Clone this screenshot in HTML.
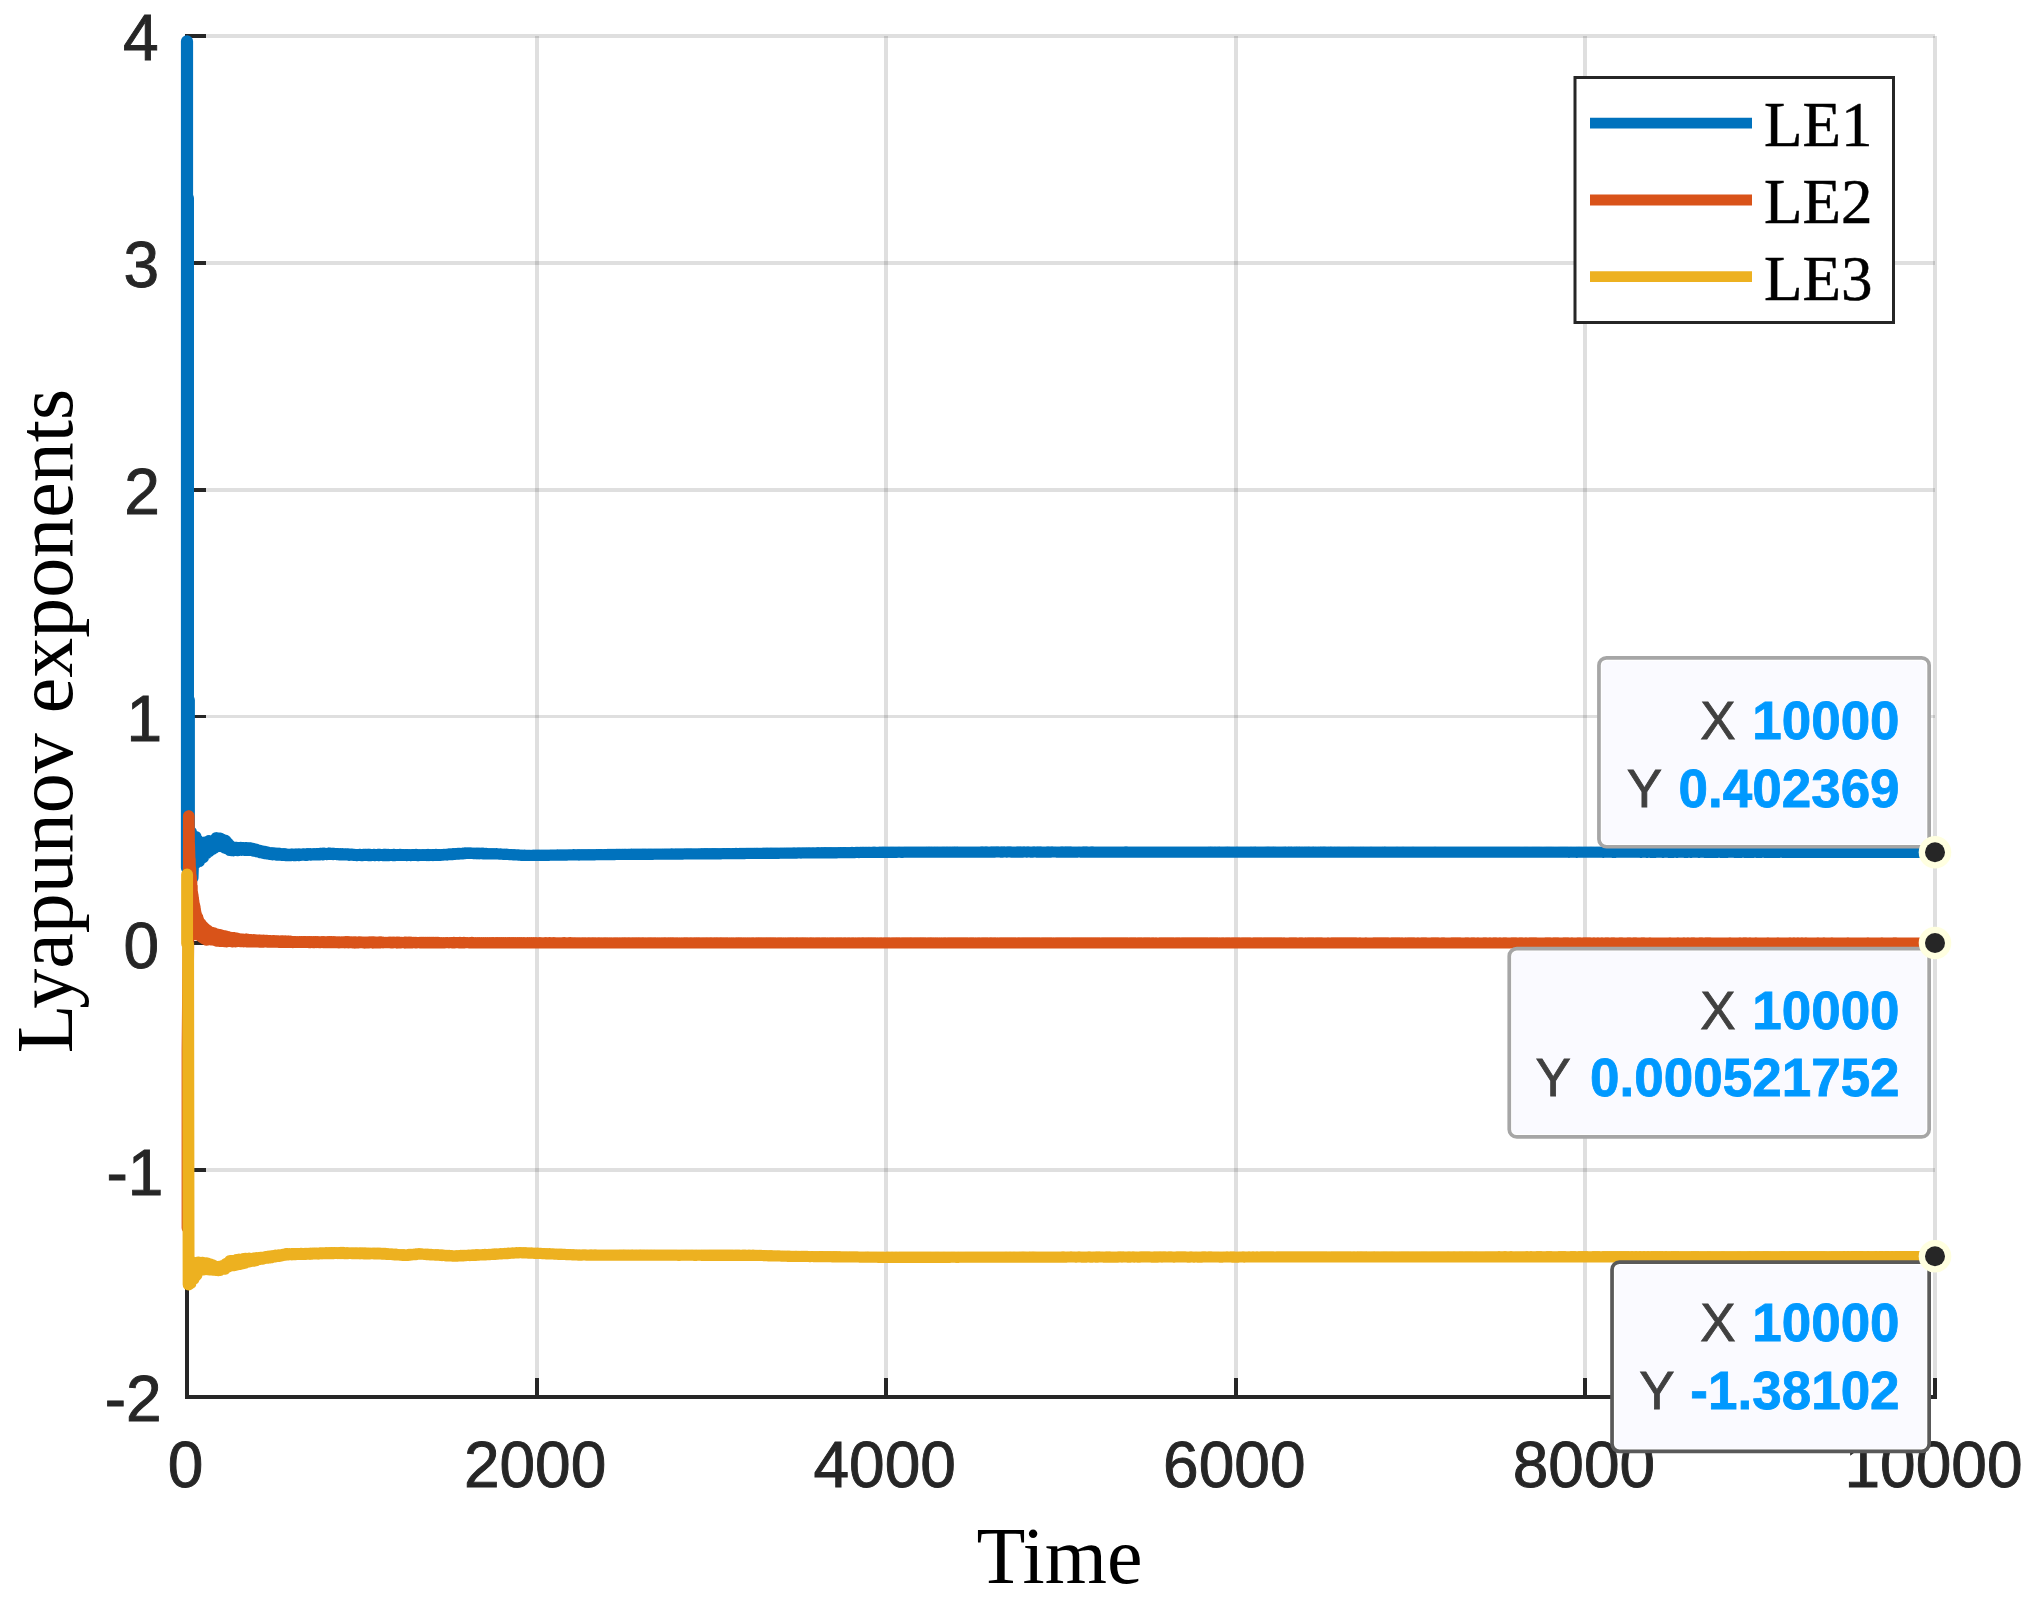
<!DOCTYPE html>
<html lang="en"><head><meta charset="utf-8"><title>Lyapunov exponents</title>
<style>html,body{margin:0;padding:0;background:#fff}svg{display:block}</style>
</head><body>
<svg width="2034" height="1598" viewBox="0 0 2034 1598">
<rect width="2034" height="1598" fill="#fff"/>
<g stroke="#262626" stroke-opacity="0.15" stroke-width="4" fill="none">
<line x1="537.0" y1="36.0" x2="537.0" y2="1397.0"/>
<line x1="886.0" y1="36.0" x2="886.0" y2="1397.0"/>
<line x1="1236.0" y1="36.0" x2="1236.0" y2="1397.0"/>
<line x1="1585.0" y1="36.0" x2="1585.0" y2="1397.0"/>
<line x1="1935.0" y1="36.0" x2="1935.0" y2="1397.0"/>
<line x1="187.0" y1="36.0" x2="1935.0" y2="36.0"/>
<line x1="187.0" y1="263.0" x2="1935.0" y2="263.0"/>
<line x1="187.0" y1="490.0" x2="1935.0" y2="490.0"/>
<line x1="187.0" y1="716.5" x2="1935.0" y2="716.5" stroke-width="3"/>
<line x1="187.0" y1="943.0" x2="1935.0" y2="943.0"/>
<line x1="187.0" y1="1170.0" x2="1935.0" y2="1170.0"/>
</g>
<g stroke="#262626" stroke-width="4" fill="none">
<polyline points="187.0,34.0 187.0,1397.0 1937.0,1397.0" stroke-linejoin="miter"/>
<line x1="537.0" y1="1397.0" x2="537.0" y2="1378.0"/>
<line x1="886.0" y1="1397.0" x2="886.0" y2="1378.0"/>
<line x1="1236.0" y1="1397.0" x2="1236.0" y2="1378.0"/>
<line x1="1585.0" y1="1397.0" x2="1585.0" y2="1378.0"/>
<line x1="1935.0" y1="1397.0" x2="1935.0" y2="1378.0"/>
<line x1="187.0" y1="36.0" x2="206.0" y2="36.0"/>
<line x1="187.0" y1="263.0" x2="206.0" y2="263.0"/>
<line x1="187.0" y1="490.0" x2="206.0" y2="490.0"/>
<line x1="187.0" y1="716.5" x2="206.0" y2="716.5" stroke-width="3"/>
<line x1="187.0" y1="943.0" x2="206.0" y2="943.0"/>
<line x1="187.0" y1="1170.0" x2="206.0" y2="1170.0"/>
</g>
<g font-family="'Liberation Sans', Arial, Helvetica, sans-serif" font-size="64" fill="#262626" stroke="#262626" stroke-width="0.9">
<text x="185.5" y="1487" text-anchor="middle">0</text>
<text x="535.1" y="1487" text-anchor="middle">2000</text>
<text x="884.7" y="1487" text-anchor="middle">4000</text>
<text x="1234.3" y="1487" text-anchor="middle">6000</text>
<text x="1583.9" y="1487" text-anchor="middle">8000</text>
<text x="1933.5" y="1487" text-anchor="middle">10000</text>
<text x="158.6" y="60.4" text-anchor="end">4</text>
<text x="159.2" y="287.2" text-anchor="end">3</text>
<text x="159.8" y="514.1" text-anchor="end">2</text>
<text x="162" y="740.9" text-anchor="end">1</text>
<text x="159" y="967.7" text-anchor="end">0</text>
<text x="163.3" y="1194.6" text-anchor="end">-1</text>
<text x="161.7" y="1421.4" text-anchor="end">-2</text>
</g>
<g font-family="'Liberation Serif', 'Times New Roman', Times, serif" font-size="80" fill="#000">
<text x="1059.5" y="1582.5" text-anchor="middle">Time</text>
<text transform="translate(71.7,721) rotate(-90)" text-anchor="middle">Lyapunov exponents</text>
</g>
<g fill="none" stroke-width="11" stroke-linejoin="round" stroke-linecap="round">
<path stroke="#0072BD" stroke-width="12.2" d="M187 41.3V868M187.9 198V868M188.8 700V868"/>
<polyline stroke="#0072BD" points="187.6,868.0 188.5,840.0 190.0,872.0 191.5,832.0 193.0,878.0 194.5,836.0 195.5,862.8 196.0,836.5 196.5,863.2 197.0,841.7 197.5,860.3 198.0,839.9 198.5,858.7 199.0,841.8 199.5,861.6 200.0,843.4 200.5,858.5 201.0,844.1 201.5,857.3 202.0,843.5 202.5,857.2 203.0,843.2 203.5,857.7 204.0,842.5 204.5,855.5 205.0,842.0 205.5,853.4 206.0,843.9 206.5,853.8 207.0,843.7 207.5,851.5 208.0,842.0 208.5,851.9 209.0,840.6 209.5,851.6 210.0,841.1 210.5,850.5 211.0,841.3 211.5,848.7 212.0,841.0 212.5,849.5 213.0,840.5 213.5,848.1 214.0,840.5 214.5,848.3 215.0,839.7 215.5,846.4 216.0,837.7 216.5,846.5 217.0,837.8 217.5,846.7 218.0,838.1 218.5,845.6 219.0,838.5 219.5,846.4 220.0,837.9 220.5,846.1 221.0,838.5 221.5,845.5 222.0,838.9 222.5,845.9 223.0,839.4 223.5,847.2 224.0,839.7 224.5,848.2 225.0,840.0 225.5,848.1 226.0,840.7 226.5,848.9 227.0,842.3 227.5,849.2 228.0,842.9 228.5,849.6 229.0,844.3 229.5,850.6 230.0,845.3 230.5,850.4 231.0,846.4 231.5,850.8 232.0,847.3 232.5,850.3 233.0,847.1 233.5,850.9 234.0,847.1 234.5,850.6 235.0,847.7 235.5,850.3 236.0,847.2 236.5,850.5 237.0,847.7 237.5,850.8 238.0,847.4 238.5,850.5 239.0,847.6 239.5,850.4 240.0,847.8 240.5,850.1 241.0,847.3 241.5,850.4 242.0,847.6 242.5,850.2 243.0,847.5 243.5,850.0 244.0,847.8 244.5,850.0 245.0,847.9 245.5,850.6 246.0,847.6 246.5,850.2 247.0,847.7 247.5,850.5 248.0,847.9 248.5,850.3 249.0,847.7 249.5,850.1 250.0,847.8 250.5,850.5 251.0,847.8 251.5,850.3 252.0,848.0 252.5,850.5 253.0,848.4 253.5,851.2 254.0,849.0 254.5,851.2 255.0,848.9 255.5,851.2 256.0,849.2 256.5,851.8 257.0,849.5 257.5,852.0 258.0,849.9 258.5,851.9 259.0,850.1 259.5,852.1 260.0,850.4 260.5,852.8 261.0,850.5 261.5,852.7 262.0,850.9 262.5,853.2 263.0,851.0 263.5,853.5 264.0,851.2 264.5,853.4 265.0,851.3 265.5,853.8 266.0,851.7 266.5,853.8 267.0,851.8 267.5,854.1 268.0,852.0 268.5,854.1 269.0,852.5 269.5,854.6 270.0,852.5 270.5,854.6 271.0,852.7 271.5,854.8 272.0,852.8 272.5,854.9 273.0,852.7 273.5,854.8 274.0,853.1 274.5,854.8 275.0,853.3 275.5,854.8 276.0,853.0 276.5,855.2 277.0,853.4 277.5,855.1 278.0,853.3 278.5,855.2 279.0,853.3 279.5,855.1 280.0,853.3 280.5,855.2 281.0,853.5 281.5,855.4 282.0,853.8 282.5,855.2 283.0,853.7 283.5,855.5 284.0,853.6 284.5,855.6 285.0,854.0 285.5,855.7 286.0,853.8 286.5,855.8 287.0,854.0 287.5,855.8 288.0,854.2 288.5,855.5 289.0,854.3 289.5,855.7 290.0,854.3 290.5,855.7 291.0,854.1 291.5,855.6 292.0,854.1 292.5,855.6 293.0,854.0 293.5,855.5 294.0,854.2 294.5,855.8 295.0,854.0 295.5,855.8 296.0,854.0 296.5,855.6 297.0,854.1 297.5,855.6 298.0,854.2 298.5,855.7 299.0,853.8 299.5,855.6 300.0,854.1 301.0,855.4 302.0,853.9 303.0,855.2 304.0,853.8 305.0,855.4 306.0,853.8 307.0,855.4 308.0,853.6 309.0,855.1 310.0,853.5 311.0,855.3 312.0,853.7 313.0,855.1 314.0,853.5 315.0,855.1 316.0,853.6 317.0,855.0 318.0,853.4 319.0,855.0 320.0,853.2 321.0,854.8 322.0,853.2 323.0,854.9 324.0,853.1 325.0,854.6 326.0,853.4 327.0,854.7 328.0,853.2 329.0,854.6 330.0,852.9 331.0,854.5 332.0,853.2 333.0,854.7 334.0,853.2 335.0,854.6 336.0,853.4 337.0,854.7 338.0,853.4 339.0,855.0 340.0,853.6 341.0,855.0 342.0,853.6 343.0,855.0 344.0,853.8 345.0,855.1 346.0,853.8 347.0,855.1 348.0,853.8 349.0,855.4 350.0,854.0 351.0,855.3 352.0,854.0 353.0,855.4 354.0,854.3 355.0,855.5 356.0,854.4 357.0,855.8 358.0,854.4 359.0,855.6 360.0,854.2 361.0,855.7 362.0,854.4 363.0,855.7 364.0,854.2 365.0,855.6 366.0,854.2 367.0,855.5 368.0,854.2 369.0,855.8 370.0,854.2 371.0,855.7 372.0,854.4 373.0,855.5 374.0,854.3 375.0,855.7 376.0,854.4 377.0,855.6 378.0,854.3 379.0,855.7 380.0,854.2 381.0,855.5 382.0,854.5 383.0,855.7 384.0,854.3 385.0,855.7 386.0,854.2 387.0,855.8 388.0,854.3 389.0,855.7 390.0,854.4 391.0,855.6 392.0,854.5 393.0,855.7 394.0,854.3 395.0,855.7 396.0,854.4 397.0,855.5 398.0,854.4 399.0,855.4 400.0,854.3 401.0,855.6 402.0,854.5 403.0,855.6 404.0,854.4 405.0,855.5 406.0,854.4 407.0,855.7 408.0,854.5 409.0,855.4 410.0,854.4 411.0,855.7 412.0,854.6 413.0,855.6 414.0,854.4 415.0,855.6 416.0,854.6 417.0,855.4 418.0,854.4 419.0,855.4 420.0,854.6 421.0,855.5 422.0,854.5 423.0,855.5 424.0,854.6 425.0,855.6 426.0,854.6 427.0,855.5 428.0,854.6 429.0,855.5 430.0,854.6 431.0,855.4 432.0,854.6 433.0,855.5 434.0,854.6 435.0,855.3 436.0,854.5 437.0,855.5 438.0,854.5 439.0,855.4 440.0,854.6 441.0,855.3 442.0,854.5 443.0,855.1 444.0,854.3 445.0,855.0 446.0,854.3 447.0,855.0 448.0,854.1 449.0,854.7 450.0,853.9 451.0,854.6 452.0,853.8 453.0,854.5 454.0,853.7 455.0,854.4 456.0,853.6 457.0,854.2 458.0,853.4 459.0,854.2 460.0,853.4 461.0,853.9 462.0,853.3 463.0,853.9 464.0,853.1 465.0,853.7 466.0,852.9 467.0,853.5 468.0,852.9 469.0,853.5 470.0,852.9 471.0,853.5 472.0,853.0 473.0,853.6 474.0,853.1 475.0,853.6 476.0,853.1 477.0,853.8 478.0,853.1 479.0,853.8 480.0,853.2 481.0,853.8 482.0,853.2 483.0,853.9 484.0,853.3 485.0,853.9 486.0,853.4 487.0,854.0 488.0,853.5 489.0,854.0 490.0,853.5 491.0,854.0 492.0,853.5 493.0,854.0 494.0,853.6 495.0,854.0 496.0,853.6 497.0,854.1 498.0,853.7 499.0,854.2 500.0,853.8 501.0,854.3 502.0,853.9 503.0,854.4 504.0,854.0 505.0,854.5 506.0,854.1 507.0,854.6 508.0,854.3 509.0,854.7 510.0,854.4 511.0,854.8 512.0,854.4 513.0,854.9 514.0,854.6 515.0,855.0 516.0,854.7 517.0,855.1 518.0,854.8 519.0,855.3 520.0,854.9 521.0,855.4 522.0,855.1 523.0,855.5 524.0,855.1 525.0,855.6 526.0,855.2 527.0,855.6 528.0,855.2 529.0,855.6 530.0,855.2 531.0,855.5 532.0,855.2 533.0,855.5 534.0,855.1 535.0,855.5 536.0,855.1 537.0,855.5 538.0,855.0 539.0,855.5 540.0,855.0 541.0,855.4 542.0,855.0 543.0,855.4 544.0,855.0 545.0,855.4 546.0,855.0 547.0,855.4 548.0,855.0 549.0,855.4 550.0,854.9 551.0,855.3 552.0,854.9 553.0,855.3 554.0,854.9 555.0,855.3 556.0,854.9 557.0,855.3 558.0,854.8 559.0,855.2 560.0,854.8 561.0,855.2 562.0,854.8 563.0,855.2 564.0,854.8 565.0,855.2 566.0,854.8 567.0,855.2 568.0,854.7 569.0,855.1 570.0,854.8 571.0,855.1 572.0,854.7 573.0,855.1 574.0,854.6 575.0,855.0 576.0,854.7 577.0,855.0 578.0,854.6 579.0,855.1 580.0,854.6 581.0,855.0 582.0,854.6 583.0,855.0 584.0,854.6 585.0,855.0 586.0,854.6 587.0,855.0 588.0,854.6 589.0,854.9 590.0,854.5 591.0,854.9 592.0,854.5 593.0,854.9 594.0,854.5 595.0,854.9 596.0,854.5 597.0,854.8 598.0,854.4 599.0,854.8 600.0,854.4 601.0,854.8 602.0,854.4 603.0,854.7 604.0,854.4 605.0,854.8 606.0,854.4 607.0,854.7 608.0,854.3 609.0,854.7 610.0,854.3 611.0,854.7 612.0,854.3 613.0,854.7 614.0,854.3 615.0,854.7 616.0,854.3 617.0,854.6 618.0,854.2 619.0,854.6 620.0,854.3 621.0,854.6 622.0,854.3 623.0,854.6 624.0,854.2 625.0,854.6 626.0,854.2 627.0,854.5 628.0,854.2 629.0,854.6 630.0,854.2 631.0,854.6 632.0,854.1 633.0,854.5 634.0,854.1 635.0,854.5 636.0,854.1 637.0,854.5 638.0,854.1 639.0,854.5 640.0,854.1 641.0,854.5 642.0,854.1 643.0,854.4 644.0,854.1 645.0,854.4 646.0,854.1 647.0,854.5 648.0,854.1 649.0,854.4 650.0,854.1 651.0,854.4 652.0,854.1 653.0,854.4 654.0,854.0 655.0,854.3 656.0,854.0 657.0,854.3 658.0,854.0 659.0,854.3 660.0,854.0 661.0,854.3 662.0,854.0 663.0,854.3 664.0,853.9 665.0,854.3 666.0,853.9 667.0,854.3 668.0,853.9 669.0,854.3 670.0,853.9 671.0,854.3 672.0,853.8 673.0,854.2 674.0,853.9 675.0,854.2 676.0,853.8 677.0,854.2 678.0,853.8 679.0,854.2 680.0,853.8 681.0,854.2 682.0,853.8 683.0,854.2 684.0,853.8 685.0,854.1 686.0,853.7 687.0,854.1 688.0,853.7 689.0,854.1 690.0,853.7 691.0,854.1 692.0,853.7 693.0,854.0 694.0,853.7 695.0,854.0 696.0,853.7 697.0,854.0 698.0,853.7 699.0,854.1 700.0,853.7 701.0,854.0 702.0,853.6 703.0,854.0 704.0,853.6 705.0,853.9 706.0,853.6 707.0,853.9 708.0,853.6 709.0,854.0 710.0,853.5 711.0,853.9 712.0,853.6 713.0,853.9 714.0,853.6 715.0,853.9 716.0,853.6 717.0,853.9 718.0,853.5 719.0,853.9 720.0,853.5 721.0,853.9 722.0,853.4 723.0,853.8 724.0,853.5 725.0,853.8 726.0,853.4 727.0,853.8 728.0,853.4 729.0,853.8 730.0,853.4 731.0,853.7 732.0,853.4 733.0,853.8 734.0,853.4 735.0,853.7 736.0,853.3 737.0,853.7 738.0,853.4 739.0,853.7 740.0,853.3 741.0,853.7 742.0,853.3 743.0,853.7 744.0,853.3 745.0,853.7 746.0,853.3 747.0,853.6 748.0,853.3 749.0,853.6 750.0,853.3 751.0,853.6 752.0,853.3 753.0,853.6 754.0,853.3 755.0,853.6 756.0,853.2 757.0,853.6 758.0,853.2 759.0,853.5 760.0,853.2 761.0,853.5 762.0,853.2 763.0,853.5 764.0,853.1 765.0,853.5 766.0,853.1 767.0,853.4 768.0,853.1 769.0,853.5 770.0,853.1 771.0,853.4 772.0,853.1 773.0,853.4 774.0,853.0 775.0,853.4 776.0,853.1 777.0,853.4 778.0,853.0 779.0,853.4 780.0,853.0 781.0,853.3 782.0,853.0 783.0,853.3 784.0,853.0 785.0,853.3 786.0,852.9 787.0,853.3 788.0,852.9 789.0,853.3 790.0,852.9 791.0,853.3 792.0,852.9 793.0,853.2 794.0,852.8 795.0,853.2 796.0,852.9 797.0,853.2 798.0,852.8 799.0,853.1 800.0,852.8 801.0,853.2 802.0,852.8 803.0,853.1 804.0,852.8 805.0,853.1 806.0,852.8 807.0,853.1 808.0,852.7 809.0,853.1 810.0,852.7 811.0,853.0 812.0,852.7 813.0,853.1 814.0,852.7 815.0,853.0 816.0,852.7 817.0,853.0 818.0,852.6 819.0,853.0 820.0,852.7 821.0,853.0 822.0,852.6 823.0,853.0 824.0,852.6 825.0,852.9 826.0,852.6 827.0,852.9 828.0,852.5 829.0,852.9 830.0,852.6 831.0,852.9 832.0,852.5 833.0,852.9 834.0,852.5 835.0,852.9 836.0,852.5 837.0,852.9 838.0,852.5 839.0,852.8 840.0,852.5 841.0,852.8 842.0,852.4 843.0,852.8 844.0,852.5 845.0,852.7 846.0,852.4 847.0,852.7 848.0,852.4 849.0,852.7 850.0,852.4 851.0,852.7 852.0,852.3 853.0,852.7 854.0,852.4 855.0,852.7 856.0,852.3 857.0,852.6 858.0,852.3 859.0,852.7 860.0,852.3 861.0,852.6 862.0,852.2 863.0,852.6 864.0,852.2 865.0,852.6 866.0,852.3 867.0,852.6 868.0,852.2 869.0,852.6 870.0,852.2 871.0,852.5 872.0,852.2 873.0,852.5 874.0,852.1 875.0,852.5 876.0,852.2 877.0,852.5 878.0,852.2 879.0,852.4 880.0,852.1 881.0,852.5 882.0,852.1 883.0,852.4 884.0,852.1 885.0,852.4 886.0,852.0 887.0,852.4 888.0,852.0 889.0,852.4 890.0,852.0 891.0,852.4 892.0,852.1 893.0,852.4 894.0,852.0 895.0,852.4 896.0,852.0 897.0,852.4 898.0,852.0 899.0,852.3 900.0,852.0 901.0,852.4 902.0,852.0 903.0,852.4 904.0,852.0 905.0,852.3 906.0,852.0 907.0,852.3 908.0,852.0 909.0,852.3 910.0,852.0 911.0,852.3 912.0,852.0 913.0,852.3 914.0,852.0 915.0,852.3 916.0,852.0 917.0,852.3 918.0,852.0 919.0,852.3 920.0,852.0 921.0,852.3 922.0,852.0 923.0,852.3 924.0,852.0 925.0,852.3 926.0,852.0 927.0,852.3 928.0,851.9 929.0,852.3 930.0,851.9 931.0,852.3 932.0,852.0 933.0,852.3 934.0,852.0 935.0,852.3 936.0,851.9 937.0,852.3 938.0,852.0 939.0,852.3 940.0,852.0 941.0,852.3 942.0,852.0 943.0,852.2 944.0,852.0 945.0,852.3 946.0,851.9 947.0,852.3 948.0,851.9 949.0,852.3 950.0,852.0 951.0,852.3 952.0,851.9 953.0,852.3 954.0,851.9 955.0,852.2 956.0,852.0 957.0,852.2 958.0,851.9 959.0,852.2 960.0,851.9 961.0,852.2 962.0,851.9 963.0,852.2 964.0,851.9 965.0,852.2 966.0,851.9 967.0,852.2 968.0,851.9 969.0,852.2 970.0,851.9 971.0,852.2 972.0,851.9 973.0,852.2 974.0,851.9 975.0,852.2 976.0,851.9 977.0,852.2 978.0,851.9 979.0,852.2 980.0,851.9 981.0,852.2 982.0,851.8 983.0,852.2 984.0,851.9 985.0,852.2 986.0,851.8 987.0,852.2 988.0,851.9 989.0,852.2 990.0,851.9 991.0,852.2 992.0,851.8 993.0,852.2 994.0,851.8 995.0,852.2 996.0,851.8 997.0,852.1 998.0,851.8 999.0,852.1 1000.0,851.9 1001.0,852.2 1002.0,851.8 1003.0,852.2 1004.0,851.8 1005.0,852.1 1006.0,851.9 1007.0,852.2 1008.0,851.8 1009.0,852.1 1010.0,851.8 1011.0,852.2 1012.0,851.9 1013.0,852.2 1014.0,851.9 1015.0,852.2 1016.0,851.9 1017.0,852.2 1018.0,851.8 1019.0,852.2 1020.0,851.8 1021.0,852.2 1022.0,851.9 1023.0,852.2 1024.0,851.8 1025.0,852.1 1026.0,851.9 1027.0,852.2 1028.0,851.8 1029.0,852.1 1030.0,851.9 1031.0,852.2 1032.0,851.9 1033.0,852.2 1034.0,851.8 1035.0,852.1 1036.0,851.9 1037.0,852.2 1038.0,851.8 1039.0,852.2 1040.0,851.8 1041.0,852.2 1042.0,851.9 1043.0,852.2 1044.0,851.9 1045.0,852.2 1046.0,851.9 1047.0,852.2 1048.0,851.8 1049.0,852.2 1050.0,851.9 1051.0,852.2 1052.0,851.8 1053.0,852.1 1054.0,851.9 1055.0,852.1 1056.0,851.9 1057.0,852.2 1058.0,851.9 1059.0,852.2 1060.0,851.9 1061.0,852.2 1062.0,851.8 1063.0,852.2 1064.0,851.9 1065.0,852.2 1066.0,851.8 1067.0,852.2 1068.0,851.8 1069.0,852.2 1070.0,851.8 1071.0,852.2 1072.0,851.9 1073.0,852.2 1074.0,851.9 1075.0,852.2 1076.0,851.9 1077.0,852.2 1078.0,851.9 1079.0,852.1 1080.0,851.9 1081.0,852.2 1082.0,851.9 1083.0,852.2 1084.0,851.8 1085.0,852.2 1086.0,851.8 1087.0,852.2 1088.0,851.9 1089.0,852.2 1090.0,851.9 1091.0,852.2 1092.0,851.8 1093.0,852.2 1094.0,851.9 1095.0,852.2 1096.0,851.9 1097.0,852.2 1098.0,851.9 1099.0,852.2 1100.0,851.9 1101.0,852.2 1102.0,851.9 1103.0,852.2 1104.0,851.9 1105.0,852.2 1106.0,851.9 1107.0,852.2 1108.0,851.9 1109.0,852.2 1110.0,851.9 1111.0,852.2 1112.0,851.9 1113.0,852.2 1114.0,851.9 1115.0,852.2 1116.0,851.9 1117.0,852.2 1118.0,851.9 1119.0,852.2 1120.0,851.9 1121.0,852.2 1122.0,851.9 1123.0,852.2 1124.0,851.9 1125.0,852.2 1126.0,851.8 1127.0,852.2 1128.0,851.9 1129.0,852.2 1130.0,851.9 1131.0,852.2 1132.0,851.9 1133.0,852.2 1134.0,851.9 1135.0,852.2 1136.0,851.9 1137.0,852.2 1138.0,851.9 1139.0,852.2 1140.0,851.9 1141.0,852.2 1142.0,851.9 1143.0,852.2 1144.0,851.9 1145.0,852.2 1146.0,851.9 1147.0,852.2 1148.0,851.9 1149.0,852.2 1150.0,851.9 1151.0,852.2 1152.0,851.9 1153.0,852.2 1154.0,851.9 1155.0,852.2 1156.0,851.9 1157.0,852.2 1158.0,851.9 1159.0,852.2 1160.0,851.9 1161.0,852.2 1162.0,851.9 1163.0,852.2 1164.0,851.9 1165.0,852.2 1166.0,851.9 1167.0,852.2 1168.0,851.9 1169.0,852.2 1170.0,851.9 1171.0,852.2 1172.0,851.9 1173.0,852.2 1174.0,851.9 1175.0,852.2 1176.0,851.9 1177.0,852.2 1178.0,851.9 1179.0,852.2 1180.0,851.9 1181.0,852.2 1182.0,851.9 1183.0,852.2 1184.0,851.9 1185.0,852.2 1186.0,851.9 1187.0,852.2 1188.0,851.9 1189.0,852.2 1190.0,851.9 1191.0,852.2 1192.0,851.9 1193.0,852.2 1194.0,851.9 1195.0,852.2 1196.0,851.9 1197.0,852.2 1198.0,851.9 1199.0,852.2 1200.0,851.9 1201.0,852.2 1202.0,851.9 1203.0,852.2 1204.0,851.9 1205.0,852.2 1206.0,851.9 1207.0,852.2 1208.0,851.9 1209.0,852.3 1210.0,851.9 1211.0,852.2 1212.0,852.0 1213.0,852.3 1214.0,851.9 1215.0,852.3 1216.0,851.9 1217.0,852.3 1218.0,852.0 1219.0,852.2 1220.0,851.9 1221.0,852.2 1222.0,851.9 1223.0,852.2 1224.0,851.9 1225.0,852.3 1226.0,852.0 1227.0,852.2 1228.0,851.9 1229.0,852.3 1230.0,851.9 1231.0,852.2 1232.0,851.9 1233.0,852.2 1234.0,851.9 1235.0,852.2 1236.0,851.9 1237.0,852.3 1238.0,851.9 1239.0,852.2 1240.0,851.9 1241.0,852.2 1242.0,851.9 1243.0,852.2 1244.0,851.9 1245.0,852.2 1246.0,851.9 1247.0,852.2 1248.0,851.9 1249.0,852.2 1250.0,851.9 1251.0,852.3 1252.0,851.9 1253.0,852.3 1254.0,852.0 1255.0,852.2 1256.0,851.9 1257.0,852.2 1258.0,851.9 1259.0,852.2 1260.0,851.9 1261.0,852.2 1262.0,851.9 1263.0,852.2 1264.0,851.9 1265.0,852.3 1266.0,852.0 1267.0,852.2 1268.0,851.9 1269.0,852.2 1270.0,852.0 1271.0,852.2 1272.0,852.0 1273.0,852.2 1274.0,851.9 1275.0,852.3 1276.0,851.9 1277.0,852.2 1278.0,851.9 1279.0,852.2 1280.0,851.9 1281.0,852.2 1282.0,851.9 1283.0,852.3 1284.0,852.0 1285.0,852.2 1286.0,851.9 1287.0,852.2 1288.0,851.9 1289.0,852.2 1290.0,852.0 1291.0,852.2 1292.0,851.9 1293.0,852.2 1294.0,851.9 1295.0,852.3 1296.0,851.9 1297.0,852.2 1298.0,852.0 1299.0,852.2 1300.0,851.9 1301.0,852.3 1302.0,852.0 1303.0,852.3 1304.0,851.9 1305.0,852.3 1306.0,851.9 1307.0,852.3 1308.0,851.9 1309.0,852.2 1310.0,852.0 1311.0,852.3 1312.0,852.0 1313.0,852.2 1314.0,851.9 1315.0,852.3 1316.0,852.0 1317.0,852.3 1318.0,852.0 1319.0,852.3 1320.0,851.9 1321.0,852.2 1322.0,852.0 1323.0,852.2 1324.0,851.9 1325.0,852.2 1326.0,852.0 1327.0,852.3 1328.0,852.0 1329.0,852.3 1330.0,851.9 1331.0,852.2 1332.0,852.0 1333.0,852.3 1334.0,852.0 1335.0,852.3 1336.0,851.9 1337.0,852.3 1338.0,852.0 1339.0,852.2 1340.0,852.0 1341.0,852.3 1342.0,852.0 1343.0,852.3 1344.0,852.0 1345.0,852.3 1346.0,852.0 1347.0,852.3 1348.0,852.0 1349.0,852.3 1350.0,851.9 1351.0,852.3 1352.0,852.0 1353.0,852.2 1354.0,852.0 1355.0,852.3 1356.0,852.0 1357.0,852.3 1358.0,852.0 1359.0,852.3 1360.0,852.0 1361.0,852.3 1362.0,851.9 1363.0,852.3 1364.0,852.0 1365.0,852.3 1366.0,852.0 1367.0,852.3 1368.0,852.0 1369.0,852.3 1370.0,852.0 1371.0,852.2 1372.0,852.0 1373.0,852.3 1374.0,852.0 1375.0,852.3 1376.0,852.0 1377.0,852.3 1378.0,852.0 1379.0,852.3 1380.0,852.0 1381.0,852.3 1382.0,852.0 1383.0,852.3 1384.0,851.9 1385.0,852.2 1386.0,852.0 1387.0,852.3 1388.0,852.0 1389.0,852.3 1390.0,852.0 1391.0,852.3 1392.0,852.0 1393.0,852.3 1394.0,852.0 1395.0,852.3 1396.0,852.0 1397.0,852.2 1398.0,852.0 1399.0,852.3 1400.0,852.0 1401.0,852.3 1402.0,852.0 1403.0,852.2 1404.0,852.0 1405.0,852.3 1406.0,852.0 1407.0,852.3 1408.0,852.0 1409.0,852.3 1410.0,852.0 1411.0,852.3 1412.0,852.0 1413.0,852.2 1414.0,852.0 1415.0,852.3 1416.0,852.0 1417.0,852.3 1418.0,852.0 1419.0,852.3 1420.0,852.0 1421.0,852.3 1422.0,852.0 1423.0,852.3 1424.0,852.0 1425.0,852.3 1426.0,852.0 1427.0,852.3 1428.0,852.0 1429.0,852.3 1430.0,852.0 1431.0,852.3 1432.0,852.0 1433.0,852.3 1434.0,852.0 1435.0,852.2 1436.0,852.0 1437.0,852.3 1438.0,852.0 1439.0,852.3 1440.0,852.0 1441.0,852.3 1442.0,852.0 1443.0,852.3 1444.0,852.0 1445.0,852.3 1446.0,852.0 1447.0,852.3 1448.0,852.0 1449.0,852.3 1450.0,852.0 1451.0,852.3 1452.0,852.0 1453.0,852.3 1454.0,852.0 1455.0,852.3 1456.0,852.0 1457.0,852.3 1458.0,852.0 1459.0,852.3 1460.0,852.0 1461.0,852.3 1462.0,852.0 1463.0,852.3 1464.0,852.0 1465.0,852.3 1466.0,852.0 1467.0,852.3 1468.0,852.0 1469.0,852.3 1470.0,852.0 1471.0,852.3 1472.0,852.0 1473.0,852.3 1474.0,852.0 1475.0,852.3 1476.0,852.0 1477.0,852.3 1478.0,852.0 1479.0,852.3 1480.0,852.0 1481.0,852.3 1482.0,852.0 1483.0,852.3 1484.0,852.0 1485.0,852.3 1486.0,852.0 1487.0,852.3 1488.0,852.0 1489.0,852.3 1490.0,852.0 1491.0,852.3 1492.0,852.0 1493.0,852.3 1494.0,852.0 1495.0,852.3 1496.0,852.0 1497.0,852.3 1498.0,852.0 1499.0,852.3 1500.0,852.0 1501.0,852.3 1502.0,852.0 1503.0,852.3 1504.0,852.0 1505.0,852.3 1506.0,852.0 1507.0,852.3 1508.0,852.0 1509.0,852.3 1510.0,852.0 1511.0,852.3 1512.0,852.0 1513.0,852.3 1514.0,852.0 1515.0,852.3 1516.0,852.0 1517.0,852.3 1518.0,852.0 1519.0,852.3 1520.0,852.0 1521.0,852.3 1522.0,852.1 1523.0,852.3 1524.0,852.0 1525.0,852.3 1526.0,852.0 1527.0,852.3 1528.0,852.0 1529.0,852.3 1530.0,852.1 1531.0,852.3 1532.0,852.0 1533.0,852.3 1534.0,852.0 1535.0,852.3 1536.0,852.0 1537.0,852.3 1538.0,852.0 1539.0,852.3 1540.0,852.0 1541.0,852.3 1542.0,852.1 1543.0,852.3 1544.0,852.1 1545.0,852.3 1546.0,852.0 1547.0,852.3 1548.0,852.0 1549.0,852.3 1550.0,852.0 1551.0,852.3 1552.0,852.0 1553.0,852.3 1554.0,852.1 1555.0,852.3 1556.0,852.1 1557.0,852.3 1558.0,852.1 1559.0,852.3 1560.0,852.0 1561.0,852.3 1562.0,852.0 1563.0,852.3 1564.0,852.0 1565.0,852.3 1566.0,852.0 1567.0,852.3 1568.0,852.0 1569.0,852.4 1570.0,852.0 1571.0,852.3 1572.0,852.1 1573.0,852.3 1574.0,852.1 1575.0,852.3 1576.0,852.1 1577.0,852.4 1578.0,852.0 1579.0,852.3 1580.0,852.0 1581.0,852.3 1582.0,852.1 1583.0,852.3 1584.0,852.1 1585.0,852.3 1586.0,852.0 1587.0,852.3 1588.0,852.1 1589.0,852.3 1590.0,852.0 1591.0,852.3 1592.0,852.0 1593.0,852.3 1594.0,852.1 1595.0,852.3 1596.0,852.1 1597.0,852.3 1598.0,852.0 1599.0,852.3 1600.0,852.1 1601.0,852.3 1602.0,852.0 1603.0,852.4 1604.0,852.1 1605.0,852.3 1606.0,852.1 1607.0,852.3 1608.0,852.0 1609.0,852.3 1610.0,852.1 1611.0,852.3 1612.0,852.1 1613.0,852.4 1614.0,852.1 1615.0,852.4 1616.0,852.1 1617.0,852.3 1618.0,852.0 1619.0,852.3 1620.0,852.1 1621.0,852.3 1622.0,852.1 1623.0,852.3 1624.0,852.1 1625.0,852.3 1626.0,852.0 1627.0,852.3 1628.0,852.1 1629.0,852.3 1630.0,852.1 1631.0,852.3 1632.0,852.1 1633.0,852.3 1634.0,852.1 1635.0,852.3 1636.0,852.1 1637.0,852.3 1638.0,852.1 1639.0,852.3 1640.0,852.1 1641.0,852.4 1642.0,852.1 1643.0,852.3 1644.0,852.1 1645.0,852.3 1646.0,852.1 1647.0,852.4 1648.0,852.1 1649.0,852.3 1650.0,852.1 1651.0,852.4 1652.0,852.1 1653.0,852.4 1654.0,852.1 1655.0,852.4 1656.0,852.1 1657.0,852.3 1658.0,852.1 1659.0,852.3 1660.0,852.1 1661.0,852.3 1662.0,852.1 1663.0,852.4 1664.0,852.1 1665.0,852.3 1666.0,852.1 1667.0,852.3 1668.0,852.1 1669.0,852.4 1670.0,852.1 1671.0,852.4 1672.0,852.1 1673.0,852.4 1674.0,852.1 1675.0,852.3 1676.0,852.1 1677.0,852.4 1678.0,852.1 1679.0,852.3 1680.0,852.1 1681.0,852.3 1682.0,852.1 1683.0,852.3 1684.0,852.1 1685.0,852.4 1686.0,852.1 1687.0,852.4 1688.0,852.1 1689.0,852.3 1690.0,852.1 1691.0,852.4 1692.0,852.1 1693.0,852.3 1694.0,852.1 1695.0,852.3 1696.0,852.1 1697.0,852.3 1698.0,852.1 1699.0,852.4 1700.0,852.1 1701.0,852.3 1702.0,852.1 1703.0,852.3 1704.0,852.1 1705.0,852.4 1706.0,852.1 1707.0,852.4 1708.0,852.1 1709.0,852.4 1710.0,852.1 1711.0,852.4 1712.0,852.1 1713.0,852.4 1714.0,852.1 1715.0,852.4 1716.0,852.1 1717.0,852.4 1718.0,852.1 1719.0,852.3 1720.0,852.1 1721.0,852.4 1722.0,852.1 1723.0,852.4 1724.0,852.1 1725.0,852.4 1726.0,852.1 1727.0,852.4 1728.0,852.1 1729.0,852.3 1730.0,852.1 1731.0,852.3 1732.0,852.1 1733.0,852.3 1734.0,852.1 1735.0,852.4 1736.0,852.1 1737.0,852.4 1738.0,852.1 1739.0,852.4 1740.0,852.1 1741.0,852.4 1742.0,852.1 1743.0,852.3 1744.0,852.1 1745.0,852.4 1746.0,852.1 1747.0,852.4 1748.0,852.1 1749.0,852.4 1750.0,852.1 1751.0,852.4 1752.0,852.1 1753.0,852.4 1754.0,852.1 1755.0,852.3 1756.0,852.1 1757.0,852.4 1758.0,852.1 1759.0,852.4 1760.0,852.1 1761.0,852.4 1762.0,852.1 1763.0,852.3 1764.0,852.1 1765.0,852.4 1766.0,852.1 1767.0,852.4 1768.0,852.1 1769.0,852.4 1770.0,852.1 1771.0,852.4 1772.0,852.1 1773.0,852.4 1774.0,852.2 1775.0,852.4 1776.0,852.1 1777.0,852.4 1778.0,852.1 1779.0,852.4 1780.0,852.1 1781.0,852.3 1782.0,852.1 1783.0,852.4 1784.0,852.1 1785.0,852.4 1786.0,852.2 1787.0,852.4 1788.0,852.1 1789.0,852.4 1790.0,852.1 1791.0,852.4 1792.0,852.1 1793.0,852.4 1794.0,852.1 1795.0,852.4 1796.0,852.1 1797.0,852.4 1798.0,852.1 1799.0,852.4 1800.0,852.1 1801.0,852.4 1802.0,852.1 1803.0,852.4 1804.0,852.1 1805.0,852.4 1806.0,852.1 1807.0,852.4 1808.0,852.1 1809.0,852.4 1810.0,852.1 1811.0,852.4 1812.0,852.2 1813.0,852.4 1814.0,852.2 1815.0,852.4 1816.0,852.1 1817.0,852.4 1818.0,852.2 1819.0,852.4 1820.0,852.1 1821.0,852.4 1822.0,852.1 1823.0,852.4 1824.0,852.1 1825.0,852.4 1826.0,852.1 1827.0,852.4 1828.0,852.1 1829.0,852.4 1830.0,852.2 1831.0,852.4 1832.0,852.1 1833.0,852.4 1834.0,852.1 1835.0,852.4 1836.0,852.1 1837.0,852.4 1838.0,852.1 1839.0,852.4 1840.0,852.2 1841.0,852.4 1842.0,852.1 1843.0,852.4 1844.0,852.1 1845.0,852.4 1846.0,852.2 1847.0,852.4 1848.0,852.2 1849.0,852.4 1850.0,852.2 1851.0,852.4 1852.0,852.2 1853.0,852.4 1854.0,852.2 1855.0,852.4 1856.0,852.1 1857.0,852.4 1858.0,852.2 1859.0,852.4 1860.0,852.1 1861.0,852.4 1862.0,852.1 1863.0,852.4 1864.0,852.1 1865.0,852.4 1866.0,852.1 1867.0,852.4 1868.0,852.2 1869.0,852.4 1870.0,852.1 1871.0,852.4 1872.0,852.2 1873.0,852.4 1874.0,852.2 1875.0,852.4 1876.0,852.2 1877.0,852.4 1878.0,852.2 1879.0,852.4 1880.0,852.1 1881.0,852.4 1882.0,852.2 1883.0,852.4 1884.0,852.2 1885.0,852.4 1886.0,852.1 1887.0,852.4 1888.0,852.1 1889.0,852.4 1890.0,852.2 1891.0,852.4 1892.0,852.2 1893.0,852.4 1894.0,852.2 1895.0,852.4 1896.0,852.2 1897.0,852.4 1898.0,852.2 1899.0,852.4 1900.0,852.1 1901.0,852.4 1902.0,852.2 1903.0,852.4 1904.0,852.2 1905.0,852.4 1906.0,852.1 1907.0,852.4 1908.0,852.2 1909.0,852.4 1910.0,852.2 1911.0,852.4 1912.0,852.2 1913.0,852.4 1914.0,852.2 1915.0,852.4 1916.0,852.1 1917.0,852.4 1918.0,852.1 1919.0,852.4 1920.0,852.2 1921.0,852.4 1922.0,852.2 1923.0,852.4 1924.0,852.2 1925.0,852.4 1926.0,852.2 1927.0,852.4 1928.0,852.2 1929.0,852.4 1930.0,852.2 1931.0,852.4 1932.0,852.2 1933.0,852.4 1934.0,852.2 1935.0,852.4"/>
<polyline stroke="#D95319" stroke-width="11.6" points="187.4,1228 187.4,1050 188.75,900 188.75,816"/>
<polyline stroke="#D95319" points="191.0,877.7 191.4,934.5 191.8,892.2 192.2,934.5 192.6,901.8 193.0,934.5 193.4,908.4 193.8,934.6 194.2,913.3 194.6,934.6 195.0,917.0 195.4,934.7 195.8,919.9 196.2,934.7 196.6,922.3 197.0,934.8 197.4,924.2 197.8,934.8 198.2,925.9 198.6,935.2 199.0,927.2 199.4,935.8 199.8,928.4 200.2,936.4 200.6,929.4 201.0,937.0 201.4,930.3 201.8,937.6 202.2,931.1 202.6,938.2 203.0,931.8 203.4,938.7 203.8,932.4 204.2,939.1 204.6,933.0 205.0,939.5 205.4,933.5 205.8,939.9 206.2,933.9 206.6,940.3"/>
<polyline stroke="#D95319" points="188.8,816.0 188.7,819.5 189.0,828.9 189.3,842.0 189.6,846.6 189.9,858.6 190.2,859.5 190.4,871.3 190.7,868.6 191.0,881.0 191.3,876.0 191.6,889.7 191.8,881.7 192.0,895.4 192.2,885.9 192.4,902.1 192.6,892.4 192.9,906.2 193.1,895.2 193.3,908.0 193.5,897.8 193.7,911.7 193.9,900.8 194.1,915.1 194.3,903.7 194.5,915.8 194.7,905.2 194.9,919.2 195.1,906.9 195.3,920.1 195.4,908.9 195.6,923.0 195.8,911.3 196.0,923.4 196.1,912.8 196.3,923.8 196.5,914.3 196.7,925.6 196.8,915.7 197.0,927.5 197.2,916.2 197.4,928.0 197.5,917.5 197.7,928.4 197.9,917.5 198.1,929.4 198.2,918.7 198.3,929.7 198.7,919.9 199.2,932.2 199.6,922.1 200.0,932.7 200.4,922.9 200.8,933.1 201.2,923.6 201.7,934.8 202.1,925.9 202.5,936.0 202.9,925.9 203.3,936.5 203.7,926.6 204.1,936.2 204.5,928.0 204.9,937.8 205.3,928.1 205.7,938.1 206.1,929.2 206.5,938.1 206.9,929.9 207.3,938.7 207.7,929.9 208.1,939.4 208.5,930.7 208.9,939.8 209.3,932.1 209.7,939.8 210.2,931.9 210.6,940.0 211.0,932.5 211.5,939.8 211.9,932.2 212.3,939.5 212.8,933.2 213.2,940.2 213.7,932.8 214.1,940.1 214.5,933.2 215.0,940.3 215.4,934.1 215.8,940.8 216.3,933.9 216.7,941.3 217.2,933.9 217.6,940.6 218.0,934.3 218.5,941.2 218.9,935.0 219.3,941.4 219.8,934.6 220.2,941.2 220.6,934.8 221.1,940.9 221.5,935.8 222.0,941.6 222.4,935.9 222.8,941.5 223.3,935.9 223.7,941.1 224.1,935.8 224.6,941.7 225.0,936.6 225.5,941.3 225.9,936.1 226.3,941.9 226.8,936.3 227.2,941.6 227.6,936.9 228.1,941.6 228.5,937.2 229.0,941.6 229.4,937.3 229.8,941.4 230.3,937.3 230.7,941.3 231.1,937.4 231.6,941.8 232.0,937.5 232.4,942.0 232.9,937.4 233.3,941.7 233.8,937.6 234.2,941.6 234.6,937.8 235.1,941.5 235.5,938.1 235.9,941.9 236.4,938.2 236.8,941.6 237.3,938.3 237.7,941.5 238.1,938.4 238.6,941.3 239.0,938.8 239.4,941.4 239.9,938.9 240.3,941.8 240.8,939.1 241.2,941.5 241.6,938.9 242.1,941.7 242.5,938.9 242.9,941.6 243.4,939.2 243.8,941.9 244.2,939.3 244.7,941.5 245.1,939.3 245.6,941.8 246.0,939.1 246.4,941.9 246.9,939.3 247.3,941.8 247.7,939.3 248.2,941.9 248.6,939.5 249.1,941.7 249.5,939.6 249.9,942.0 250.4,939.5 250.8,942.0 251.2,939.8 251.7,942.1 252.1,939.7 252.6,942.1 253.0,939.7 253.4,942.0 253.9,939.6 254.3,942.1 254.7,939.7 255.2,941.9 255.6,939.8 256.0,942.0 256.5,940.0 256.9,941.9 257.4,939.9 257.8,942.0 258.2,939.9 258.7,941.9 259.1,940.2 259.5,942.3 260.0,940.1 260.4,942.1 260.9,940.2 261.3,942.0 261.7,940.2 262.2,942.2 262.6,940.3 263.0,942.3 263.5,940.1 263.9,942.2 264.3,940.3 264.8,942.1 265.2,940.4 265.7,942.1 266.1,940.2 266.5,942.0 267.0,940.3 267.4,942.2 267.8,940.6 268.3,942.1 268.7,940.4 269.2,942.3 269.6,940.6 270.0,942.3 270.5,940.6 270.9,942.2 271.3,940.7 271.8,942.3 272.2,940.7 272.7,942.2 273.1,940.5 273.5,942.3 274.0,940.6 274.4,942.3 274.8,940.7 275.3,942.2 275.7,940.7 276.1,942.2 276.6,940.8 277.0,942.3 277.5,940.9 277.9,942.2 278.3,940.8 278.8,942.4 279.2,940.9 279.6,942.3 280.1,940.9 280.5,942.3 281.0,940.9 281.4,942.4 281.8,941.0 282.3,942.4 282.7,940.8 283.1,942.3 283.6,940.9 284.0,942.4 284.5,940.9 284.9,942.3 285.3,941.0 285.8,942.4 286.2,941.1 286.6,942.4 287.1,941.2 287.5,942.4 287.9,941.0 288.4,942.3 288.8,941.0 289.3,942.4 289.7,941.2 290.1,942.4 290.6,941.1 291.0,942.3 291.4,941.2 292.9,942.7 293.9,941.4 294.9,942.5 295.9,941.7 296.9,942.4 297.9,941.4 298.9,942.6 299.9,941.4 300.9,942.6 301.9,941.5 302.9,942.6 303.9,941.5 304.9,942.5 305.9,941.6 306.9,942.6 307.9,941.5 308.9,942.5 309.9,941.8 310.9,942.5 311.9,941.7 312.9,942.7 313.9,941.6 314.9,942.7 315.9,941.7 316.9,942.5 317.9,941.7 318.9,942.7 319.9,941.7 320.9,942.7 321.9,941.7 322.9,942.5 323.9,941.7 324.9,942.6 325.9,941.8 326.9,942.6 327.9,941.7 328.9,942.6 329.9,941.7 330.9,942.6 331.9,941.7 332.9,942.6 333.9,941.8 334.9,942.8 335.9,941.7 336.9,942.8 337.9,941.9 338.9,942.8 339.9,941.9 340.9,942.8 341.9,941.7 342.9,942.8 343.9,941.8 344.9,942.7 345.9,941.8 346.9,942.6 347.9,941.8 348.9,942.8 349.9,942.0 350.9,942.7 351.9,941.9 352.9,942.8 353.9,942.0 354.9,942.9 355.9,942.0 356.9,942.9 357.9,941.9 358.9,942.8 359.9,942.0 360.9,942.7 361.9,942.1 362.9,942.8 363.9,941.9 364.9,942.9 365.9,942.1 366.9,942.9 367.9,942.1 368.9,942.9 369.9,942.0 370.9,942.7 371.9,942.0 372.9,942.9 373.9,942.0 374.9,942.9 375.9,942.1 376.9,942.8 377.9,942.1 378.9,942.9 379.9,942.0 380.9,942.8 381.9,942.1 382.9,942.8 383.9,942.2 384.9,942.8 385.9,942.2 386.9,942.8 387.9,942.2 388.9,942.8 389.9,942.2 390.9,942.9 391.9,942.3 392.9,942.9 393.9,942.2 394.9,942.8 395.9,942.3 396.9,943.0 397.9,942.2 398.9,943.0 399.9,942.4 400.9,943.0 401.9,942.3 402.9,942.8 403.9,942.3 404.9,943.0 405.9,942.2 406.9,942.9 407.9,942.4 408.9,943.0 409.9,942.2 410.9,942.9 411.9,942.4 412.9,942.9 413.9,942.3 414.9,942.9 415.9,942.4 416.9,942.9 417.9,942.4 418.9,942.8 419.9,942.4 420.9,943.0 421.9,942.4 422.9,943.0 423.9,942.3 424.9,942.9 425.9,942.4 426.9,942.9 427.9,942.3 428.9,942.9 429.9,942.3 430.9,942.9 431.9,942.3 432.9,943.0 433.9,942.4 434.9,942.9 435.9,942.4 436.9,943.0 437.9,942.4 438.9,943.0 439.9,942.5 440.9,943.0 441.9,942.5 442.9,942.9 443.9,942.5 444.9,942.9 445.9,942.4 446.9,942.8 447.9,942.5 448.9,942.9 449.9,942.4 450.9,942.8 451.9,942.5 452.9,943.0 453.9,942.4 454.9,942.9 455.9,942.4 456.9,942.8 457.9,942.4 458.9,942.9 459.9,942.4 460.9,942.9 461.9,942.5 462.9,942.9 463.9,942.4 464.9,942.9 465.9,942.5 466.9,942.8 467.9,942.5 468.9,942.9 469.9,942.5 470.9,942.9 471.9,942.4 472.9,942.9 473.9,942.5 474.9,942.9 475.9,942.5 476.9,942.9 477.9,942.5 478.9,943.0 479.9,942.5 480.9,942.9 481.9,942.5 482.9,942.9 483.9,942.5 484.9,942.9 485.9,942.5 486.9,942.9 487.9,942.5 488.9,942.9 489.9,942.5 490.9,943.0 491.9,942.6 492.9,942.9 493.9,942.6 494.9,943.0 495.9,942.6 496.9,942.9 497.9,942.6 498.9,942.9 499.9,942.5 500.9,943.0 501.9,942.5 502.9,943.0 503.9,942.5 504.9,942.9 505.9,942.6 506.9,943.0 507.9,942.6 508.9,942.9 509.9,942.5 510.9,943.0 511.9,942.6 512.9,942.9 513.9,942.5 514.9,943.0 515.9,942.6 516.9,943.0 517.9,942.5 518.9,943.0 519.9,942.5 520.9,943.0 521.9,942.6 522.9,943.0 523.9,942.6 524.9,943.0 525.9,942.7 526.9,942.9 527.9,942.6 528.9,943.0 529.9,942.6 530.9,943.0 531.9,942.6 532.9,943.0 533.9,942.6 534.9,943.0 535.9,942.6 536.9,943.0 537.9,942.7 538.9,943.0 539.9,942.6 540.9,943.0 541.9,942.7 542.9,943.0 543.9,942.7 544.9,943.0 545.9,942.6 546.9,943.0 547.9,942.7 548.9,943.1 549.9,942.6 550.9,943.0 551.9,942.7 552.9,943.0 553.9,942.6 554.9,943.0 555.9,942.7 556.9,943.0 557.9,942.7 558.9,943.0 559.9,942.7 560.9,943.0 561.9,942.7 562.9,943.0 563.9,942.6 564.9,943.1 565.9,942.7 566.9,943.0 567.9,942.7 568.9,943.0 569.9,942.6 570.9,943.1 571.9,942.7 572.9,943.1 573.9,942.7 574.9,943.1 575.9,942.7 576.9,943.0 577.9,942.7 578.9,943.0 579.9,942.7 580.9,943.0 581.9,942.8 582.9,943.1 583.9,942.7 584.9,943.1 585.9,942.8 586.9,943.0 587.9,942.7 588.9,943.1 589.9,942.7 590.9,943.0 591.9,942.7 592.9,943.1 593.9,942.7 594.9,943.1 595.9,942.8 596.9,943.0 597.9,942.7 598.9,943.1 599.9,942.7 600.9,943.0 601.9,942.8 602.9,943.0 603.9,942.7 604.9,943.1 605.9,942.8 606.9,943.1 607.9,942.8 608.9,943.0 609.9,942.7 610.9,943.0 611.9,942.8 612.9,943.0 613.9,942.8 614.9,943.1 615.9,942.8 616.9,943.1 617.9,942.8 618.9,943.0 619.9,942.7 620.9,943.0 621.9,942.8 622.9,943.1 623.9,942.7 624.9,943.1 625.9,942.7 626.9,943.0 627.9,942.7 628.9,943.1 629.9,942.7 630.9,943.0 631.9,942.8 632.9,943.1 633.9,942.7 634.9,943.1 635.9,942.8 636.9,943.1 637.9,942.7 638.9,943.1 639.9,942.7 640.9,943.0 641.9,942.7 642.9,943.1 643.9,942.7 644.9,943.0 645.9,942.8 646.9,943.0 647.9,942.7 648.9,943.1 649.9,942.8 650.9,943.1 651.9,942.7 652.9,943.0 653.9,942.7 654.9,943.1 655.9,942.8 656.9,943.0 657.9,942.7 658.9,943.0 659.9,942.8 660.9,943.0 661.9,942.7 662.9,943.0 663.9,942.7 664.9,943.1 665.9,942.7 666.9,943.0 667.9,942.8 668.9,943.1 669.9,942.7 670.9,943.1 671.9,942.7 672.9,943.1 673.9,942.7 674.9,943.0 675.9,942.8 676.9,943.1 677.9,942.8 678.9,943.0 679.9,942.8 680.9,943.0 681.9,942.8 682.9,943.0 683.9,942.7 684.9,943.1 685.9,942.7 686.9,943.1 687.9,942.7 688.9,943.0 689.9,942.8 690.9,943.1 691.9,942.7 692.9,943.0 693.9,942.8 694.9,943.1 695.9,942.7 696.9,943.1 697.9,942.7 698.9,943.1 699.9,942.7 700.9,943.0 701.9,942.8 702.9,943.1 703.9,942.8 704.9,943.1 705.9,942.8 706.9,943.1 707.9,942.7 708.9,943.0 709.9,942.7 710.9,943.1 711.9,942.7 712.9,943.0 713.9,942.8 714.9,943.1 715.9,942.7 716.9,943.1 717.9,942.7 718.9,943.0 719.9,942.7 720.9,943.1 721.9,942.7 722.9,943.0 723.9,942.7 724.9,943.0 725.9,942.7 726.9,943.1 727.9,942.8 728.9,943.0 729.9,942.8 730.9,943.0 731.9,942.7 732.9,943.0 733.9,942.8 734.9,943.0 735.9,942.8 736.9,943.1 737.9,942.7 738.9,943.1 739.9,942.7 740.9,943.1 741.9,942.8 742.9,943.0 743.9,942.7 744.9,943.0 745.9,942.8 746.9,943.0 747.9,942.7 748.9,943.0 749.9,942.8 750.9,943.0 751.9,942.7 752.9,943.1 753.9,942.8 754.9,943.0 755.9,942.8 756.9,943.1 757.9,942.7 758.9,943.1 759.9,942.7 760.9,943.1 761.9,942.8 762.9,943.1 763.9,942.8 764.9,943.1 765.9,942.8 766.9,943.1 767.9,942.7 768.9,943.1 769.9,942.8 770.9,943.1 771.9,942.7 772.9,943.1 773.9,942.8 774.9,943.1 775.9,942.8 776.9,943.0 777.9,942.8 778.9,943.1 779.9,942.8 780.9,943.1 781.9,942.8 782.9,943.0 783.9,942.8 784.9,943.0 785.9,942.8 786.9,943.0 787.9,942.8 788.9,943.1 789.9,942.8 790.9,943.1 791.9,942.7 792.9,943.1 793.9,942.8 794.9,943.0 795.9,942.7 796.9,943.1 797.9,942.7 798.9,943.0 799.9,942.8 800.9,943.1 801.9,942.8 802.9,943.1 803.9,942.7 804.9,943.0 805.9,942.7 806.9,943.0 807.9,942.8 808.9,943.0 809.9,942.8 810.9,943.1 811.9,942.7 812.9,943.0 813.9,942.8 814.9,943.0 815.9,942.8 816.9,943.1 817.9,942.8 818.9,943.1 819.9,942.8 820.9,943.0 821.9,942.8 822.9,943.1 823.9,942.8 824.9,943.1 825.9,942.8 826.9,943.0 827.9,942.8 828.9,943.0 829.9,942.8 830.9,943.1 831.9,942.8 832.9,943.1 833.9,942.8 834.9,943.0 835.9,942.8 836.9,943.1 837.9,942.8 838.9,943.1 839.9,942.8 840.9,943.1 841.9,942.8 842.9,943.0 843.9,942.8 844.9,943.1 845.9,942.8 846.9,943.0 847.9,942.8 848.9,943.1 849.9,942.8 850.9,943.0 851.9,942.8 852.9,943.1 853.9,942.8 854.9,943.0 855.9,942.8 856.9,943.0 857.9,942.8 858.9,943.1 859.9,942.8 860.9,943.0 861.9,942.7 862.9,943.1 863.9,942.7 864.9,943.0 865.9,942.8 866.9,943.1 867.9,942.8 868.9,943.1 869.9,942.7 870.9,943.1 871.9,942.8 872.9,943.1 873.9,942.8 874.9,943.1 875.9,942.8 876.9,943.0 877.9,942.8 878.9,943.0 879.9,942.8 880.9,943.1 881.9,942.8 882.9,943.0 883.9,942.8 884.9,943.1 885.9,942.8 886.9,943.1 887.9,942.8 888.9,943.1 889.9,942.8 890.9,943.0 891.9,942.8 892.9,943.1 893.9,942.8 894.9,943.1 895.9,942.8 896.9,943.1 897.9,942.7 898.9,943.1 899.9,942.8 900.9,943.0 901.9,942.8 902.9,943.1 903.9,942.8 904.9,943.1 905.9,942.8 906.9,943.1 907.9,942.8 908.9,943.1 909.9,942.8 910.9,943.1 911.9,942.7 912.9,943.0 913.9,942.8 914.9,943.1 915.9,942.8 916.9,943.1 917.9,942.8 918.9,943.1 919.9,942.8 920.9,943.1 921.9,942.7 922.9,943.1 923.9,942.8 924.9,943.1 925.9,942.8 926.9,943.0 927.9,942.8 928.9,943.1 929.9,942.8 930.9,943.1 931.9,942.7 932.9,943.0 933.9,942.8 934.9,943.0 935.9,942.7 936.9,943.0 937.9,942.8 938.9,943.0 939.9,942.8 940.9,943.0 941.9,942.8 942.9,943.0 943.9,942.8 944.9,943.1 945.9,942.8 946.9,943.0 947.9,942.8 948.9,943.1 949.9,942.8 950.9,943.1 951.9,942.8 952.9,943.1 953.9,942.8 954.9,943.1 955.9,942.8 956.9,943.1 957.9,942.8 958.9,943.1 959.9,942.8 960.9,943.1 961.9,942.8 962.9,943.1 963.9,942.8 964.9,943.1 965.9,942.8 966.9,943.1 967.9,942.8 968.9,943.0 969.9,942.8 970.9,943.1 971.9,942.8 972.9,943.1 973.9,942.8 974.9,943.0 975.9,942.8 976.9,943.0 977.9,942.8 978.9,943.1 979.9,942.8 980.9,943.0 981.9,942.8 982.9,943.1 983.9,942.8 984.9,943.1 985.9,942.8 986.9,943.1 987.9,942.8 988.9,943.0 989.9,942.8 990.9,943.1 991.9,942.7 992.9,943.0 993.9,942.8 994.9,943.1 995.9,942.8 996.9,943.0 997.9,942.8 998.9,943.0 999.9,942.8 1000.9,943.1 1001.9,942.8 1002.9,943.1 1003.9,942.8 1004.9,943.1 1005.9,942.8 1006.9,943.1 1007.9,942.8 1008.9,943.1 1009.9,942.8 1010.9,943.1 1011.9,942.8 1012.9,943.1 1013.9,942.8 1014.9,943.1 1015.9,942.8 1016.9,943.0 1017.9,942.8 1018.9,943.1 1019.9,942.7 1020.9,943.0 1021.9,942.8 1022.9,943.1 1023.9,942.8 1024.9,943.1 1025.9,942.8 1026.9,943.1 1027.9,942.8 1028.9,943.1 1029.9,942.8 1030.9,943.1 1031.9,942.8 1032.9,943.1 1033.9,942.8 1034.9,943.1 1035.9,942.8 1036.9,943.1 1037.9,942.8 1038.9,943.1 1039.9,942.8 1040.9,943.0 1041.9,942.8 1042.9,943.1 1043.9,942.8 1044.9,943.1 1045.9,942.8 1046.9,943.1 1047.9,942.8 1048.9,943.1 1049.9,942.8 1050.9,943.1 1051.9,942.8 1052.9,943.0 1053.9,942.8 1054.9,943.0 1055.9,942.8 1056.9,943.1 1057.9,942.8 1058.9,943.1 1059.9,942.8 1060.9,943.1 1061.9,942.8 1062.9,943.1 1063.9,942.8 1064.9,943.1 1065.9,942.8 1066.9,943.1 1067.9,942.8 1068.9,943.1 1069.9,942.8 1070.9,943.0 1071.9,942.8 1072.9,943.1 1073.9,942.8 1074.9,943.1 1075.9,942.8 1076.9,943.1 1077.9,942.8 1078.9,943.1 1079.9,942.8 1080.9,943.1 1081.9,942.8 1082.9,943.1 1083.9,942.8 1084.9,943.1 1085.9,942.8 1086.9,943.1 1087.9,942.8 1088.9,943.1 1089.9,942.8 1090.9,943.1 1091.9,942.8 1092.9,943.1 1093.9,942.8 1094.9,943.1 1095.9,942.8 1096.9,943.1 1097.9,942.8 1098.9,943.1 1099.9,942.8 1100.9,943.0 1101.9,942.8 1102.9,943.1 1103.9,942.8 1104.9,943.1 1105.9,942.8 1106.9,943.1 1107.9,942.8 1108.9,943.1 1109.9,942.8 1110.9,943.1 1111.9,942.8 1112.9,943.1 1113.9,942.8 1114.9,943.1 1115.9,942.8 1116.9,943.1 1117.9,942.8 1118.9,943.1 1119.9,942.8 1120.9,943.1 1121.9,942.8 1122.9,943.1 1123.9,942.8 1124.9,943.1 1125.9,942.8 1126.9,943.1 1127.9,942.8 1128.9,943.0 1129.9,942.8 1130.9,943.1 1131.9,942.8 1132.9,943.1 1133.9,942.8 1134.9,943.1 1135.9,942.8 1136.9,943.0 1137.9,942.8 1138.9,943.1 1139.9,942.8 1140.9,943.1 1141.9,942.8 1142.9,943.0 1143.9,942.8 1144.9,943.1 1145.9,942.8 1146.9,943.1 1147.9,942.8 1148.9,943.1 1149.9,942.8 1150.9,943.0 1151.9,942.8 1152.9,943.1 1153.9,942.8 1154.9,943.0 1155.9,942.8 1156.9,943.1 1157.9,942.9 1158.9,943.1 1159.9,942.8 1160.9,943.1 1161.9,942.8 1162.9,943.1 1163.9,942.8 1164.9,943.1 1165.9,942.8 1166.9,943.1 1167.9,942.8 1168.9,943.1 1169.9,942.8 1170.9,943.1 1171.9,942.8 1172.9,943.1 1173.9,942.8 1174.9,943.0 1175.9,942.8 1176.9,943.1 1177.9,942.8 1178.9,943.1 1179.9,942.8 1180.9,943.0 1181.9,942.8 1182.9,943.1 1183.9,942.8 1184.9,943.1 1185.9,942.8 1186.9,943.1 1187.9,942.8 1188.9,943.1 1189.9,942.8 1190.9,943.1 1191.9,942.8 1192.9,943.1 1193.9,942.8 1194.9,943.1 1195.9,942.8 1196.9,943.1 1197.9,942.8 1198.9,943.1 1199.9,942.8 1200.9,943.1 1201.9,942.8 1202.9,943.1 1203.9,942.8 1204.9,943.1 1205.9,942.8 1206.9,943.1 1207.9,942.8 1208.9,943.0 1209.9,942.8 1210.9,943.1 1211.9,942.8 1212.9,943.1 1213.9,942.8 1214.9,943.1 1215.9,942.8 1216.9,943.1 1217.9,942.8 1218.9,943.0 1219.9,942.8 1220.9,943.0 1221.9,942.8 1222.9,943.1 1223.9,942.8 1224.9,943.0 1225.9,942.8 1226.9,943.1 1227.9,942.8 1228.9,943.1 1229.9,942.8 1230.9,943.0 1231.9,942.8 1232.9,943.1 1233.9,942.8 1234.9,943.1 1235.9,942.8 1236.9,943.1 1237.9,942.8 1238.9,943.1 1239.9,942.8 1240.9,943.0 1241.9,942.8 1242.9,943.1 1243.9,942.8 1244.9,943.1 1245.9,942.8 1246.9,943.1 1247.9,942.8 1248.9,943.1 1249.9,942.8 1250.9,943.1 1251.9,942.9 1252.9,943.1 1253.9,942.8 1254.9,943.1 1255.9,942.8 1256.9,943.1 1257.9,942.8 1258.9,943.1 1259.9,942.8 1260.9,943.1 1261.9,942.8 1262.9,943.0 1263.9,942.8 1264.9,943.1 1265.9,942.8 1266.9,943.1 1267.9,942.8 1268.9,943.1 1269.9,942.8 1270.9,943.1 1271.9,942.8 1272.9,943.1 1273.9,942.8 1274.9,943.1 1275.9,942.8 1276.9,943.1 1277.9,942.8 1278.9,943.1 1279.9,942.8 1280.9,943.1 1281.9,942.8 1282.9,943.0 1283.9,942.8 1284.9,943.1 1285.9,942.9 1286.9,943.0 1287.9,942.9 1288.9,943.1 1289.9,942.8 1290.9,943.1 1291.9,942.8 1292.9,943.1 1293.9,942.8 1294.9,943.1 1295.9,942.8 1296.9,943.1 1297.9,942.9 1298.9,943.1 1299.9,942.8 1300.9,943.1 1301.9,942.8 1302.9,943.1 1303.9,942.9 1304.9,943.1 1305.9,942.8 1306.9,943.0 1307.9,942.8 1308.9,943.1 1309.9,942.8 1310.9,943.1 1311.9,942.8 1312.9,943.1 1313.9,942.8 1314.9,943.0 1315.9,942.8 1316.9,943.1 1317.9,942.8 1318.9,943.1 1319.9,942.8 1320.9,943.1 1321.9,942.8 1322.9,943.0 1323.9,942.9 1324.9,943.1 1325.9,942.9 1326.9,943.0 1327.9,942.8 1328.9,943.1 1329.9,942.9 1330.9,943.1 1331.9,942.8 1332.9,943.1 1333.9,942.8 1334.9,943.1 1335.9,942.8 1336.9,943.1 1337.9,942.8 1338.9,943.1 1339.9,942.8 1340.9,943.1 1341.9,942.8 1342.9,943.1 1343.9,942.8 1344.9,943.1 1345.9,942.8 1346.9,943.1 1347.9,942.8 1348.9,943.1 1349.9,942.8 1350.9,943.1 1351.9,942.8 1352.9,943.1 1353.9,942.8 1354.9,943.1 1355.9,942.8 1356.9,943.1 1357.9,942.9 1358.9,943.1 1359.9,942.8 1360.9,943.1 1361.9,942.9 1362.9,943.1 1363.9,942.9 1364.9,943.1 1365.9,942.8 1366.9,943.1 1367.9,942.9 1368.9,943.1 1369.9,942.9 1370.9,943.1 1371.9,942.9 1372.9,943.1 1373.9,942.8 1374.9,943.1 1375.9,942.8 1376.9,943.1 1377.9,942.8 1378.9,943.1 1379.9,942.8 1380.9,943.1 1381.9,942.8 1382.9,943.1 1383.9,942.8 1384.9,943.1 1385.9,942.8 1386.9,943.1 1387.9,942.8 1388.9,943.1 1389.9,942.9 1390.9,943.1 1391.9,942.8 1392.9,943.1 1393.9,942.8 1394.9,943.1 1395.9,942.8 1396.9,943.1 1397.9,942.8 1398.9,943.1 1399.9,942.8 1400.9,943.0 1401.9,942.8 1402.9,943.1 1403.9,942.9 1404.9,943.1 1405.9,942.8 1406.9,943.0 1407.9,942.8 1408.9,943.1 1409.9,942.8 1410.9,943.1 1411.9,942.8 1412.9,943.1 1413.9,942.8 1414.9,943.1 1415.9,942.9 1416.9,943.1 1417.9,942.8 1418.9,943.1 1419.9,942.9 1420.9,943.1 1421.9,942.8 1422.9,943.1 1423.9,942.8 1424.9,943.1 1425.9,942.8 1426.9,943.1 1427.9,942.9 1428.9,943.1 1429.9,942.9 1430.9,943.1 1431.9,942.8 1432.9,943.1 1433.9,942.8 1434.9,943.1 1435.9,942.8 1436.9,943.1 1437.9,942.8 1438.9,943.1 1439.9,942.9 1440.9,943.0 1441.9,942.8 1442.9,943.1 1443.9,942.8 1444.9,943.1 1445.9,942.9 1446.9,943.1 1447.9,942.9 1448.9,943.1 1449.9,942.9 1450.9,943.1 1451.9,942.8 1452.9,943.1 1453.9,942.8 1454.9,943.1 1455.9,942.8 1456.9,943.1 1457.9,942.8 1458.9,943.1 1459.9,942.8 1460.9,943.1 1461.9,942.9 1462.9,943.1 1463.9,942.9 1464.9,943.1 1465.9,942.8 1466.9,943.1 1467.9,942.8 1468.9,943.1 1469.9,942.9 1470.9,943.1 1471.9,942.8 1472.9,943.1 1473.9,942.8 1474.9,943.1 1475.9,942.9 1476.9,943.1 1477.9,942.8 1478.9,943.1 1479.9,942.9 1480.9,943.1 1481.9,942.9 1482.9,943.1 1483.9,942.8 1484.9,943.1 1485.9,942.8 1486.9,943.1 1487.9,942.9 1488.9,943.1 1489.9,942.8 1490.9,943.1 1491.9,942.9 1492.9,943.1 1493.9,942.8 1494.9,943.1 1495.9,942.8 1496.9,943.1 1497.9,942.9 1498.9,943.1 1499.9,942.8 1500.9,943.1 1501.9,942.9 1502.9,943.1 1503.9,942.8 1504.9,943.1 1505.9,942.8 1506.9,943.1 1507.9,942.9 1508.9,943.1 1509.9,942.9 1510.9,943.1 1511.9,942.8 1512.9,943.1 1513.9,942.8 1514.9,943.1 1515.9,942.8 1516.9,943.1 1517.9,942.9 1518.9,943.1 1519.9,942.8 1520.9,943.1 1521.9,942.8 1522.9,943.1 1523.9,942.9 1524.9,943.1 1525.9,942.8 1526.9,943.1 1527.9,942.9 1528.9,943.1 1529.9,942.8 1530.9,943.1 1531.9,942.8 1532.9,943.1 1533.9,942.8 1534.9,943.1 1535.9,942.8 1536.9,943.1 1537.9,942.9 1538.9,943.1 1539.9,942.9 1540.9,943.1 1541.9,942.9 1542.9,943.1 1543.9,942.9 1544.9,943.1 1545.9,942.8 1546.9,943.1 1547.9,942.8 1548.9,943.1 1549.9,942.8 1550.9,943.1 1551.9,942.9 1552.9,943.1 1553.9,942.8 1554.9,943.1 1555.9,942.8 1556.9,943.1 1557.9,942.8 1558.9,943.1 1559.9,942.9 1560.9,943.1 1561.9,942.9 1562.9,943.1 1563.9,942.8 1564.9,943.1 1565.9,942.8 1566.9,943.1 1567.9,942.8 1568.9,943.1 1569.9,942.9 1570.9,943.1 1571.9,942.8 1572.9,943.1 1573.9,942.9 1574.9,943.1 1575.9,942.9 1576.9,943.1 1577.9,942.8 1578.9,943.1 1579.9,942.8 1580.9,943.1 1581.9,942.9 1582.9,943.1 1583.9,942.8 1584.9,943.1 1585.9,942.8 1586.9,943.1 1587.9,942.8 1588.9,943.1 1589.9,942.8 1590.9,943.1 1591.9,942.9 1592.9,943.1 1593.9,942.8 1594.9,943.1 1595.9,942.9 1596.9,943.1 1597.9,942.8 1598.9,943.1 1599.9,942.9 1600.9,943.1 1601.9,942.8 1602.9,943.1 1603.9,942.9 1604.9,943.1 1605.9,942.8 1606.9,943.1 1607.9,942.8 1608.9,943.1 1609.9,942.9 1610.9,943.1 1611.9,942.8 1612.9,943.1 1613.9,942.8 1614.9,943.1 1615.9,942.9 1616.9,943.1 1617.9,942.9 1618.9,943.1 1619.9,942.8 1620.9,943.1 1621.9,942.8 1622.9,943.1 1623.9,942.9 1624.9,943.1 1625.9,942.9 1626.9,943.1 1627.9,942.8 1628.9,943.1 1629.9,942.8 1630.9,943.1 1631.9,942.9 1632.9,943.1 1633.9,942.8 1634.9,943.1 1635.9,942.8 1636.9,943.1 1637.9,942.9 1638.9,943.1 1639.9,942.9 1640.9,943.1 1641.9,942.8 1642.9,943.1 1643.9,942.8 1644.9,943.1 1645.9,942.9 1646.9,943.1 1647.9,942.9 1648.9,943.1 1649.9,942.8 1650.9,943.1 1651.9,942.9 1652.9,943.1 1653.9,942.9 1654.9,943.1 1655.9,942.9 1656.9,943.1 1657.9,942.9 1658.9,943.1 1659.9,942.9 1660.9,943.1 1661.9,942.9 1662.9,943.1 1663.9,942.9 1664.9,943.1 1665.9,942.9 1666.9,943.1 1667.9,942.9 1668.9,943.1 1669.9,942.8 1670.9,943.1 1671.9,942.9 1672.9,943.1 1673.9,942.9 1674.9,943.1 1675.9,942.9 1676.9,943.1 1677.9,942.8 1678.9,943.1 1679.9,942.9 1680.9,943.1 1681.9,942.9 1682.9,943.1 1683.9,942.8 1684.9,943.1 1685.9,942.9 1686.9,943.1 1687.9,942.8 1688.9,943.1 1689.9,942.9 1690.9,943.1 1691.9,942.8 1692.9,943.1 1693.9,942.8 1694.9,943.1 1695.9,942.9 1696.9,943.1 1697.9,942.9 1698.9,943.1 1699.9,942.8 1700.9,943.1 1701.9,942.8 1702.9,943.1 1703.9,942.9 1704.9,943.1 1705.9,942.8 1706.9,943.1 1707.9,942.8 1708.9,943.1 1709.9,942.8 1710.9,943.1 1711.9,942.9 1712.9,943.1 1713.9,942.9 1714.9,943.1 1715.9,942.9 1716.9,943.1 1717.9,942.9 1718.9,943.1 1719.9,942.9 1720.9,943.1 1721.9,942.9 1722.9,943.1 1723.9,942.9 1724.9,943.1 1725.9,942.9 1726.9,943.1 1727.9,942.9 1728.9,943.1 1729.9,942.8 1730.9,943.1 1731.9,942.9 1732.9,943.1 1733.9,942.9 1734.9,943.1 1735.9,942.9 1736.9,943.1 1737.9,942.9 1738.9,943.1 1739.9,942.8 1740.9,943.1 1741.9,942.9 1742.9,943.1 1743.9,942.8 1744.9,943.1 1745.9,942.8 1746.9,943.1 1747.9,942.9 1748.9,943.1 1749.9,942.8 1750.9,943.1 1751.9,942.9 1752.9,943.1 1753.9,942.9 1754.9,943.1 1755.9,942.8 1756.9,943.1 1757.9,942.9 1758.9,943.1 1759.9,942.9 1760.9,943.1 1761.9,942.9 1762.9,943.1 1763.9,942.9 1764.9,943.1 1765.9,942.9 1766.9,943.1 1767.9,942.8 1768.9,943.1 1769.9,942.9 1770.9,943.1 1771.9,942.9 1772.9,943.1 1773.9,942.9 1774.9,943.1 1775.9,942.9 1776.9,943.1 1777.9,942.8 1778.9,943.1 1779.9,942.9 1780.9,943.1 1781.9,942.9 1782.9,943.1 1783.9,942.9 1784.9,943.1 1785.9,942.9 1786.9,943.1 1787.9,942.9 1788.9,943.1 1789.9,942.8 1790.9,943.1 1791.9,942.9 1792.9,943.1 1793.9,942.8 1794.9,943.1 1795.9,942.9 1796.9,943.1 1797.9,942.8 1798.9,943.1 1799.9,942.9 1800.9,943.1 1801.9,942.8 1802.9,943.1 1803.9,942.9 1804.9,943.1 1805.9,942.8 1806.9,943.1 1807.9,942.9 1808.9,943.1 1809.9,942.9 1810.9,943.1 1811.9,942.9 1812.9,943.1 1813.9,942.9 1814.9,943.1 1815.9,942.9 1816.9,943.1 1817.9,942.8 1818.9,943.1 1819.9,942.9 1820.9,943.1 1821.9,942.9 1822.9,943.1 1823.9,942.8 1824.9,943.1 1825.9,942.9 1826.9,943.1 1827.9,942.9 1828.9,943.1 1829.9,942.9 1830.9,943.1 1831.9,942.8 1832.9,943.1 1833.9,942.9 1834.9,943.1 1835.9,942.9 1836.9,943.1 1837.9,942.9 1838.9,943.1 1839.9,942.9 1840.9,943.1 1841.9,942.9 1842.9,943.1 1843.9,942.9 1844.9,943.1 1845.9,942.9 1846.9,943.1 1847.9,942.8 1848.9,943.1 1849.9,942.9 1850.9,943.1 1851.9,942.9 1852.9,943.1 1853.9,942.9 1854.9,943.1 1855.9,942.9 1856.9,943.1 1857.9,942.9 1858.9,943.1 1859.9,942.9 1860.9,943.1 1861.9,942.9 1862.9,943.1 1863.9,942.9 1864.9,943.1 1865.9,942.9 1866.9,943.1 1867.9,942.8 1868.9,943.1 1869.9,942.9 1870.9,943.1 1871.9,942.9 1872.9,943.1 1873.9,942.9 1874.9,943.1 1875.9,942.9 1876.9,943.1 1877.9,942.9 1878.9,943.1 1879.9,942.9 1880.9,943.1 1881.9,942.8 1882.9,943.1 1883.9,942.9 1884.9,943.1 1885.9,942.9 1886.9,943.1 1887.9,942.9 1888.9,943.1 1889.9,942.9 1890.9,943.1 1891.9,942.9 1892.9,943.1 1893.9,942.8 1894.9,943.1 1895.9,942.8 1896.9,943.1 1897.9,942.9 1898.9,943.1 1899.9,942.9 1900.9,943.1 1901.9,942.9 1902.9,943.1 1903.9,942.9 1904.9,943.1 1905.9,942.9 1906.9,943.1 1907.9,942.9 1908.9,943.1 1909.9,942.9 1910.9,943.1 1911.9,942.9 1912.9,943.1 1913.9,942.9 1914.9,943.1 1915.9,942.9 1916.9,943.1 1917.9,942.9 1918.9,943.1 1919.9,942.9 1920.9,943.1 1921.9,942.9 1922.9,943.1 1923.9,942.9 1924.9,943.1 1925.9,942.9 1926.9,943.1 1927.9,942.9 1928.9,943.1 1929.9,942.9 1930.9,943.1 1931.9,942.9 1932.9,943.1 1933.9,942.9 1934.9,943.1"/>
<polyline stroke="#EDB120" stroke-width="11.9" points="187.1,874.5 187.1,943.5 188.1,944.5 188.6,1284.5"/>
<polyline stroke="#EDB120" points="188.5,1284.5 189.5,1262.0 191.0,1283.0 192.5,1262.0 194.0,1279.1 194.5,1265.7 195.0,1276.6 195.5,1263.1 196.0,1276.2 196.5,1264.0 197.0,1275.1 197.5,1262.3 198.0,1272.0 198.5,1261.9 199.0,1270.2 199.5,1262.4 200.0,1269.2 200.5,1262.9 201.0,1269.5 201.5,1262.4 202.0,1269.3 202.5,1262.3 203.0,1270.0 203.5,1263.3 204.0,1268.8 204.5,1262.7 205.0,1269.0 205.5,1263.2 206.0,1269.0 206.5,1262.9 207.0,1269.7 207.5,1262.9 208.0,1269.7 208.5,1264.1 209.0,1269.9 209.5,1264.0 210.0,1269.2 210.5,1264.0 211.0,1269.4 211.5,1264.7 212.0,1270.1 212.5,1264.8 213.0,1270.2 213.5,1265.1 214.0,1269.7 214.5,1266.5 215.0,1270.0 215.5,1266.3 216.0,1270.4 216.5,1267.1 217.0,1270.3 217.5,1267.0 218.0,1270.7 218.5,1266.8 219.0,1270.5 219.5,1266.3 220.0,1270.5 220.5,1266.2 221.0,1269.9 221.5,1266.1 222.0,1269.5 222.5,1265.5 223.0,1269.3 223.5,1265.3 224.0,1269.2 224.5,1264.9 225.0,1269.2 225.5,1263.7 226.0,1267.7 226.5,1263.3 227.0,1267.4 227.5,1262.9 228.0,1267.2 228.5,1262.2 229.0,1266.3 229.5,1260.8 230.0,1266.1 230.5,1260.5 231.0,1266.0 231.5,1260.6 232.0,1265.6 232.5,1260.5 233.0,1265.6 233.5,1260.5 234.0,1265.8 234.5,1260.5 235.0,1264.9 235.5,1260.2 236.0,1265.4 236.5,1259.5 237.0,1264.9 237.5,1259.9 238.0,1264.8 238.5,1259.2 239.0,1264.1 239.5,1259.3 240.0,1264.5 240.5,1259.5 241.0,1263.6 241.5,1259.1 242.0,1263.5 242.5,1259.2 243.0,1263.7 243.5,1258.4 244.0,1263.0 244.5,1259.3 245.0,1263.3 245.5,1258.2 246.0,1262.5 246.5,1258.5 247.0,1262.3 247.5,1258.5 248.0,1262.1 248.5,1258.3 249.0,1262.1 249.5,1258.2 250.0,1261.8 250.5,1258.7 251.0,1261.5 251.5,1258.4 252.0,1261.2 252.5,1258.4 253.0,1261.3 253.5,1258.1 254.0,1261.3 254.5,1257.9 255.0,1260.8 255.5,1257.7 256.0,1260.8 256.5,1257.7 257.0,1260.0 257.5,1257.7 258.0,1259.8 258.5,1257.5 259.0,1259.6 259.5,1257.5 260.0,1259.4 260.5,1257.2 261.0,1259.2 261.5,1257.2 262.0,1259.3 262.5,1257.2 263.0,1259.1 263.5,1257.1 264.0,1258.8 264.5,1257.0 265.0,1258.5 265.5,1256.6 266.0,1258.3 266.5,1256.7 267.0,1258.2 267.5,1256.3 268.0,1258.2 268.5,1256.3 269.0,1258.1 269.5,1256.0 270.0,1257.9 270.5,1256.0 271.0,1257.6 271.5,1255.8 272.0,1257.7 272.5,1255.7 273.0,1257.3 273.5,1255.4 274.0,1257.0 274.5,1255.6 275.0,1257.1 275.5,1255.1 276.0,1256.7 276.5,1255.3 277.0,1256.5 277.5,1255.0 278.0,1256.4 278.5,1254.8 279.0,1256.4 279.5,1254.9 280.0,1256.3 280.5,1254.7 281.0,1256.0 281.5,1254.5 282.0,1255.8 282.5,1254.3 283.0,1255.5 283.5,1254.2 284.0,1255.4 284.5,1254.0 285.0,1255.2 285.5,1253.9 286.0,1255.2 286.5,1253.5 287.0,1254.9 287.5,1253.5 288.0,1255.0 288.5,1253.7 289.0,1254.7 289.5,1253.5 290.0,1254.8 290.5,1253.7 291.0,1254.8 291.5,1253.5 292.0,1254.9 292.5,1253.6 293.0,1254.7 293.5,1253.6 294.0,1254.6 294.5,1253.5 295.0,1254.8 295.5,1253.6 296.0,1254.6 296.5,1253.6 297.0,1254.4 297.5,1253.5 298.0,1254.6 298.5,1253.5 299.0,1254.5 299.5,1253.4 300.0,1254.4 301.0,1253.3 302.0,1254.4 303.0,1253.4 304.0,1254.3 305.0,1253.4 306.0,1254.2 307.0,1253.2 308.0,1254.3 309.0,1253.3 310.0,1254.2 311.0,1253.3 312.0,1254.2 313.0,1253.1 314.0,1254.1 315.0,1253.0 316.0,1253.9 317.0,1253.1 318.0,1253.9 319.0,1252.9 320.0,1253.8 321.0,1253.0 322.0,1253.8 323.0,1253.0 324.0,1253.7 325.0,1252.9 326.0,1253.6 327.0,1252.8 328.0,1253.7 329.0,1252.7 330.0,1253.5 331.0,1252.7 332.0,1253.6 333.0,1252.7 334.0,1253.5 335.0,1252.7 336.0,1253.4 337.0,1252.6 338.0,1253.5 339.0,1252.7 340.0,1253.5 341.0,1252.6 342.0,1253.5 343.0,1252.6 344.0,1253.5 345.0,1252.8 346.0,1253.6 347.0,1252.7 348.0,1253.6 349.0,1252.8 350.0,1253.5 351.0,1252.8 352.0,1253.6 353.0,1252.8 354.0,1253.6 355.0,1252.9 356.0,1253.7 357.0,1252.9 358.0,1253.6 359.0,1253.0 360.0,1253.8 361.0,1253.0 362.0,1253.7 363.0,1252.9 364.0,1253.8 365.0,1253.0 366.0,1253.9 367.0,1253.1 368.0,1253.9 369.0,1253.1 370.0,1253.8 371.0,1253.2 372.0,1253.8 373.0,1253.2 374.0,1253.9 375.0,1253.2 376.0,1253.8 377.0,1253.1 378.0,1253.9 379.0,1253.2 380.0,1253.9 381.0,1253.3 382.0,1254.1 383.0,1253.4 384.0,1254.2 385.0,1253.5 386.0,1254.3 387.0,1253.7 388.0,1254.4 389.0,1253.9 390.0,1254.5 391.0,1253.9 392.0,1254.6 393.0,1254.1 394.0,1254.8 395.0,1254.2 396.0,1255.0 397.0,1254.4 398.0,1255.0 399.0,1254.5 400.0,1255.2 401.0,1254.6 402.0,1255.3 403.0,1254.7 404.0,1255.4 405.0,1254.8 406.0,1255.4 407.0,1254.8 408.0,1255.4 409.0,1254.5 410.0,1255.1 411.0,1254.3 412.0,1254.9 413.0,1254.2 414.0,1254.7 415.0,1254.0 416.0,1254.6 417.0,1253.8 418.0,1254.2 419.0,1253.6 420.0,1254.2 421.0,1253.7 422.0,1254.3 423.0,1253.9 424.0,1254.4 425.0,1254.0 426.0,1254.6 427.0,1254.1 428.0,1254.7 429.0,1254.2 430.0,1254.9 431.0,1254.4 432.0,1255.0 433.0,1254.5 434.0,1255.0 435.0,1254.6 436.0,1255.2 437.0,1254.6 438.0,1255.3 439.0,1254.8 440.0,1255.5 441.0,1254.9 442.0,1255.6 443.0,1255.1 444.0,1255.6 445.0,1255.2 446.0,1255.9 447.0,1255.4 448.0,1255.9 449.0,1255.4 450.0,1256.0 451.0,1255.5 452.0,1256.1 453.0,1255.7 454.0,1256.3 455.0,1255.7 456.0,1256.2 457.0,1255.6 458.0,1256.1 459.0,1255.5 460.0,1256.0 461.0,1255.4 462.0,1255.9 463.0,1255.4 464.0,1255.9 465.0,1255.3 466.0,1255.8 467.0,1255.2 468.0,1255.6 469.0,1255.1 470.0,1255.6 471.0,1255.0 472.0,1255.5 473.0,1254.9 474.0,1255.5 475.0,1254.8 476.0,1255.4 477.0,1254.7 478.0,1255.3 479.0,1254.7 480.0,1255.1 481.0,1254.7 482.0,1255.1 483.0,1254.6 484.0,1255.0 485.0,1254.4 486.0,1254.9 487.0,1254.4 488.0,1254.8 489.0,1254.3 490.0,1254.8 491.0,1254.2 492.0,1254.6 493.0,1254.1 494.0,1254.5 495.0,1253.9 496.0,1254.4 497.0,1253.8 498.0,1254.2 499.0,1253.7 500.0,1254.1 501.0,1253.6 502.0,1253.9 503.0,1253.4 504.0,1253.8 505.0,1253.3 506.0,1253.7 507.0,1253.2 508.0,1253.6 509.0,1253.0 510.0,1253.4 511.0,1252.9 512.0,1253.3 513.0,1252.8 514.0,1253.2 515.0,1252.7 516.0,1253.1 517.0,1252.6 518.0,1253.0 519.0,1252.5 520.0,1252.8 521.0,1252.4 522.0,1252.9 523.0,1252.5 524.0,1253.0 525.0,1252.6 526.0,1253.0 527.0,1252.7 528.0,1253.2 529.0,1252.8 530.0,1253.2 531.0,1252.8 532.0,1253.3 533.0,1253.0 534.0,1253.4 535.0,1253.0 536.0,1253.5 537.0,1253.1 538.0,1253.6 539.0,1253.2 540.0,1253.6 541.0,1253.3 542.0,1253.7 543.0,1253.4 544.0,1253.8 545.0,1253.4 546.0,1253.9 547.0,1253.6 548.0,1254.0 549.0,1253.6 550.0,1254.1 551.0,1253.7 552.0,1254.1 553.0,1253.8 554.0,1254.2 555.0,1253.9 556.0,1254.3 557.0,1254.0 558.0,1254.4 559.0,1254.1 560.0,1254.4 561.0,1254.1 562.0,1254.5 563.0,1254.2 564.0,1254.6 565.0,1254.2 566.0,1254.7 567.0,1254.4 568.0,1254.8 569.0,1254.4 570.0,1254.8 571.0,1254.5 572.0,1254.9 573.0,1254.6 574.0,1255.0 575.0,1254.7 576.0,1255.1 577.0,1254.8 578.0,1255.2 579.0,1254.8 580.0,1255.2 581.0,1254.9 582.0,1255.2 583.0,1254.8 584.0,1255.1 585.0,1254.8 586.0,1255.2 587.0,1254.9 588.0,1255.2 589.0,1254.9 590.0,1255.2 591.0,1254.8 592.0,1255.2 593.0,1254.9 594.0,1255.2 595.0,1254.8 596.0,1255.2 597.0,1254.9 598.0,1255.2 599.0,1254.9 600.0,1255.2 601.0,1254.9 602.0,1255.2 603.0,1254.9 604.0,1255.2 605.0,1254.9 606.0,1255.2 607.0,1254.9 608.0,1255.2 609.0,1254.9 610.0,1255.2 611.0,1254.9 612.0,1255.2 613.0,1254.9 614.0,1255.2 615.0,1254.9 616.0,1255.2 617.0,1254.9 618.0,1255.2 619.0,1254.9 620.0,1255.3 621.0,1254.9 622.0,1255.3 623.0,1254.9 624.0,1255.2 625.0,1255.0 626.0,1255.3 627.0,1254.9 628.0,1255.3 629.0,1255.0 630.0,1255.3 631.0,1255.0 632.0,1255.2 633.0,1254.9 634.0,1255.2 635.0,1254.9 636.0,1255.3 637.0,1255.0 638.0,1255.3 639.0,1255.0 640.0,1255.2 641.0,1254.9 642.0,1255.3 643.0,1254.9 644.0,1255.3 645.0,1254.9 646.0,1255.3 647.0,1255.0 648.0,1255.3 649.0,1254.9 650.0,1255.3 651.0,1255.0 652.0,1255.3 653.0,1254.9 654.0,1255.3 655.0,1255.0 656.0,1255.3 657.0,1255.0 658.0,1255.3 659.0,1255.0 660.0,1255.3 661.0,1255.0 662.0,1255.3 663.0,1255.0 664.0,1255.3 665.0,1255.0 666.0,1255.3 667.0,1255.0 668.0,1255.3 669.0,1255.0 670.0,1255.3 671.0,1255.0 672.0,1255.3 673.0,1255.0 674.0,1255.3 675.0,1255.0 676.0,1255.3 677.0,1255.0 678.0,1255.4 679.0,1255.0 680.0,1255.4 681.0,1255.0 682.0,1255.3 683.0,1255.1 684.0,1255.3 685.0,1255.0 686.0,1255.3 687.0,1255.0 688.0,1255.3 689.0,1255.1 690.0,1255.3 691.0,1255.0 692.0,1255.3 693.0,1255.0 694.0,1255.4 695.0,1255.0 696.0,1255.4 697.0,1255.1 698.0,1255.3 699.0,1255.1 700.0,1255.3 701.0,1255.1 702.0,1255.4 703.0,1255.0 704.0,1255.4 705.0,1255.1 706.0,1255.4 707.0,1255.0 708.0,1255.4 709.0,1255.1 710.0,1255.4 711.0,1255.1 712.0,1255.4 713.0,1255.1 714.0,1255.4 715.0,1255.1 716.0,1255.4 717.0,1255.1 718.0,1255.4 719.0,1255.1 720.0,1255.4 721.0,1255.1 722.0,1255.4 723.0,1255.1 724.0,1255.4 725.0,1255.1 726.0,1255.4 727.0,1255.1 728.0,1255.4 729.0,1255.1 730.0,1255.4 731.0,1255.1 732.0,1255.4 733.0,1255.1 734.0,1255.5 735.0,1255.1 736.0,1255.4 737.0,1255.1 738.0,1255.4 739.0,1255.1 740.0,1255.4 741.0,1255.2 742.0,1255.4 743.0,1255.1 744.0,1255.4 745.0,1255.1 746.0,1255.4 747.0,1255.2 748.0,1255.4 749.0,1255.1 750.0,1255.5 751.0,1255.2 752.0,1255.4 753.0,1255.1 754.0,1255.4 755.0,1255.2 756.0,1255.5 757.0,1255.2 758.0,1255.5 759.0,1255.3 760.0,1255.6 761.0,1255.3 762.0,1255.6 763.0,1255.4 764.0,1255.7 765.0,1255.5 766.0,1255.8 767.0,1255.5 768.0,1255.9 769.0,1255.5 770.0,1255.9 771.0,1255.6 772.0,1256.0 773.0,1255.7 774.0,1256.0 775.0,1255.7 776.0,1256.0 777.0,1255.8 778.0,1256.1 779.0,1255.8 780.0,1256.1 781.0,1255.9 782.0,1256.3 783.0,1256.0 784.0,1256.3 785.0,1256.0 786.0,1256.3 787.0,1256.1 788.0,1256.4 789.0,1256.1 790.0,1256.4 791.0,1256.2 792.0,1256.5 793.0,1256.2 794.0,1256.5 795.0,1256.2 796.0,1256.6 797.0,1256.2 798.0,1256.5 799.0,1256.3 800.0,1256.5 801.0,1256.3 802.0,1256.6 803.0,1256.3 804.0,1256.6 805.0,1256.3 806.0,1256.6 807.0,1256.3 808.0,1256.6 809.0,1256.4 810.0,1256.7 811.0,1256.4 812.0,1256.6 813.0,1256.4 814.0,1256.7 815.0,1256.4 816.0,1256.7 817.0,1256.4 818.0,1256.7 819.0,1256.4 820.0,1256.8 821.0,1256.4 822.0,1256.7 823.0,1256.5 824.0,1256.8 825.0,1256.5 826.0,1256.8 827.0,1256.5 828.0,1256.8 829.0,1256.5 830.0,1256.8 831.0,1256.5 832.0,1256.9 833.0,1256.6 834.0,1256.9 835.0,1256.6 836.0,1256.9 837.0,1256.6 838.0,1257.0 839.0,1256.6 840.0,1257.0 841.0,1256.7 842.0,1257.0 843.0,1256.7 844.0,1257.0 845.0,1256.7 846.0,1257.0 847.0,1256.7 848.0,1257.0 849.0,1256.8 850.0,1257.1 851.0,1256.8 852.0,1257.1 853.0,1256.8 854.0,1257.1 855.0,1256.8 856.0,1257.1 857.0,1256.8 858.0,1257.1 859.0,1256.9 860.0,1257.2 861.0,1256.9 862.0,1257.2 863.0,1256.9 864.0,1257.2 865.0,1256.9 866.0,1257.3 867.0,1256.9 868.0,1257.2 869.0,1257.0 870.0,1257.3 871.0,1257.0 872.0,1257.3 873.0,1257.0 874.0,1257.3 875.0,1257.0 876.0,1257.3 877.0,1257.0 878.0,1257.4 879.0,1257.1 880.0,1257.4 881.0,1257.0 882.0,1257.4 883.0,1257.1 884.0,1257.4 885.0,1257.2 886.0,1257.4 887.0,1257.1 888.0,1257.4 889.0,1257.1 890.0,1257.5 891.0,1257.1 892.0,1257.4 893.0,1257.1 894.0,1257.5 895.0,1257.1 896.0,1257.4 897.0,1257.1 898.0,1257.5 899.0,1257.1 900.0,1257.4 901.0,1257.1 902.0,1257.4 903.0,1257.1 904.0,1257.4 905.0,1257.1 906.0,1257.4 907.0,1257.1 908.0,1257.4 909.0,1257.1 910.0,1257.4 911.0,1257.1 912.0,1257.4 913.0,1257.1 914.0,1257.4 915.0,1257.1 916.0,1257.4 917.0,1257.1 918.0,1257.4 919.0,1257.1 920.0,1257.4 921.0,1257.1 922.0,1257.4 923.0,1257.1 924.0,1257.4 925.0,1257.1 926.0,1257.4 927.0,1257.1 928.0,1257.4 929.0,1257.1 930.0,1257.4 931.0,1257.1 932.0,1257.4 933.0,1257.0 934.0,1257.4 935.0,1257.1 936.0,1257.4 937.0,1257.1 938.0,1257.4 939.0,1257.1 940.0,1257.4 941.0,1257.0 942.0,1257.4 943.0,1257.1 944.0,1257.4 945.0,1257.1 946.0,1257.4 947.0,1257.0 948.0,1257.4 949.0,1257.1 950.0,1257.4 951.0,1257.0 952.0,1257.3 953.0,1257.0 954.0,1257.3 955.0,1257.0 956.0,1257.4 957.0,1257.0 958.0,1257.4 959.0,1257.1 960.0,1257.3 961.0,1257.0 962.0,1257.3 963.0,1257.1 964.0,1257.3 965.0,1257.0 966.0,1257.3 967.0,1257.0 968.0,1257.3 969.0,1257.0 970.0,1257.3 971.0,1257.0 972.0,1257.3 973.0,1257.0 974.0,1257.3 975.0,1257.0 976.0,1257.3 977.0,1257.0 978.0,1257.3 979.0,1257.0 980.0,1257.3 981.0,1257.0 982.0,1257.3 983.0,1257.0 984.0,1257.3 985.0,1257.0 986.0,1257.3 987.0,1257.0 988.0,1257.3 989.0,1257.0 990.0,1257.3 991.0,1257.0 992.0,1257.3 993.0,1257.0 994.0,1257.3 995.0,1257.0 996.0,1257.3 997.0,1257.0 998.0,1257.3 999.0,1257.0 1000.0,1257.3 1001.0,1257.0 1002.0,1257.3 1003.0,1257.0 1004.0,1257.3 1005.0,1257.0 1006.0,1257.2 1007.0,1257.0 1008.0,1257.3 1009.0,1257.0 1010.0,1257.2 1011.0,1257.0 1012.0,1257.3 1013.0,1257.0 1014.0,1257.2 1015.0,1257.0 1016.0,1257.3 1017.0,1257.0 1018.0,1257.3 1019.0,1257.0 1020.0,1257.2 1021.0,1257.0 1022.0,1257.2 1023.0,1256.9 1024.0,1257.2 1025.0,1257.0 1026.0,1257.3 1027.0,1256.9 1028.0,1257.2 1029.0,1256.9 1030.0,1257.2 1031.0,1257.0 1032.0,1257.2 1033.0,1256.9 1034.0,1257.2 1035.0,1257.0 1036.0,1257.3 1037.0,1256.9 1038.0,1257.2 1039.0,1256.9 1040.0,1257.2 1041.0,1256.9 1042.0,1257.2 1043.0,1256.9 1044.0,1257.2 1045.0,1256.9 1046.0,1257.2 1047.0,1256.9 1048.0,1257.2 1049.0,1256.9 1050.0,1257.2 1051.0,1256.9 1052.0,1257.2 1053.0,1256.9 1054.0,1257.2 1055.0,1256.9 1056.0,1257.2 1057.0,1256.9 1058.0,1257.2 1059.0,1256.9 1060.0,1257.2 1061.0,1256.9 1062.0,1257.2 1063.0,1256.8 1064.0,1257.2 1065.0,1256.9 1066.0,1257.2 1067.0,1256.9 1068.0,1257.1 1069.0,1256.9 1070.0,1257.1 1071.0,1256.8 1072.0,1257.1 1073.0,1256.9 1074.0,1257.1 1075.0,1256.9 1076.0,1257.2 1077.0,1256.9 1078.0,1257.1 1079.0,1256.8 1080.0,1257.1 1081.0,1256.9 1082.0,1257.2 1083.0,1256.9 1084.0,1257.2 1085.0,1256.9 1086.0,1257.2 1087.0,1256.9 1088.0,1257.1 1089.0,1256.8 1090.0,1257.2 1091.0,1256.9 1092.0,1257.2 1093.0,1256.9 1094.0,1257.1 1095.0,1256.9 1096.0,1257.2 1097.0,1256.8 1098.0,1257.2 1099.0,1256.8 1100.0,1257.1 1101.0,1256.9 1102.0,1257.1 1103.0,1256.9 1104.0,1257.2 1105.0,1256.9 1106.0,1257.2 1107.0,1256.8 1108.0,1257.2 1109.0,1256.8 1110.0,1257.2 1111.0,1256.9 1112.0,1257.2 1113.0,1256.9 1114.0,1257.2 1115.0,1256.9 1116.0,1257.2 1117.0,1256.9 1118.0,1257.2 1119.0,1256.8 1120.0,1257.1 1121.0,1256.8 1122.0,1257.2 1123.0,1256.8 1124.0,1257.1 1125.0,1256.9 1126.0,1257.1 1127.0,1256.9 1128.0,1257.2 1129.0,1256.8 1130.0,1257.2 1131.0,1256.9 1132.0,1257.1 1133.0,1256.8 1134.0,1257.2 1135.0,1256.9 1136.0,1257.1 1137.0,1256.9 1138.0,1257.2 1139.0,1256.9 1140.0,1257.2 1141.0,1256.8 1142.0,1257.1 1143.0,1256.8 1144.0,1257.1 1145.0,1256.8 1146.0,1257.1 1147.0,1256.8 1148.0,1257.1 1149.0,1256.8 1150.0,1257.1 1151.0,1256.9 1152.0,1257.2 1153.0,1256.9 1154.0,1257.2 1155.0,1256.8 1156.0,1257.2 1157.0,1256.8 1158.0,1257.2 1159.0,1256.8 1160.0,1257.1 1161.0,1256.8 1162.0,1257.2 1163.0,1256.8 1164.0,1257.1 1165.0,1256.8 1166.0,1257.1 1167.0,1256.9 1168.0,1257.1 1169.0,1256.8 1170.0,1257.1 1171.0,1256.8 1172.0,1257.1 1173.0,1256.9 1174.0,1257.2 1175.0,1256.9 1176.0,1257.1 1177.0,1256.8 1178.0,1257.1 1179.0,1256.8 1180.0,1257.1 1181.0,1256.8 1182.0,1257.1 1183.0,1256.8 1184.0,1257.1 1185.0,1256.8 1186.0,1257.1 1187.0,1256.9 1188.0,1257.2 1189.0,1256.9 1190.0,1257.2 1191.0,1256.8 1192.0,1257.1 1193.0,1256.9 1194.0,1257.2 1195.0,1256.9 1196.0,1257.1 1197.0,1256.9 1198.0,1257.2 1199.0,1256.9 1200.0,1257.2 1201.0,1256.9 1202.0,1257.2 1203.0,1256.8 1204.0,1257.1 1205.0,1256.8 1206.0,1257.1 1207.0,1256.9 1208.0,1257.1 1209.0,1256.8 1210.0,1257.1 1211.0,1256.8 1212.0,1257.1 1213.0,1256.9 1214.0,1257.1 1215.0,1256.9 1216.0,1257.1 1217.0,1256.9 1218.0,1257.1 1219.0,1256.9 1220.0,1257.2 1221.0,1256.9 1222.0,1257.2 1223.0,1256.9 1224.0,1257.1 1225.0,1256.9 1226.0,1257.1 1227.0,1256.8 1228.0,1257.1 1229.0,1256.9 1230.0,1257.1 1231.0,1256.8 1232.0,1257.2 1233.0,1256.8 1234.0,1257.2 1235.0,1256.9 1236.0,1257.2 1237.0,1256.9 1238.0,1257.2 1239.0,1256.9 1240.0,1257.1 1241.0,1256.9 1242.0,1257.1 1243.0,1256.8 1244.0,1257.2 1245.0,1256.9 1246.0,1257.1 1247.0,1256.9 1248.0,1257.1 1249.0,1256.8 1250.0,1257.1 1251.0,1256.9 1252.0,1257.1 1253.0,1256.8 1254.0,1257.1 1255.0,1256.9 1256.0,1257.1 1257.0,1256.8 1258.0,1257.1 1259.0,1256.9 1260.0,1257.1 1261.0,1256.8 1262.0,1257.1 1263.0,1256.8 1264.0,1257.1 1265.0,1256.8 1266.0,1257.1 1267.0,1256.8 1268.0,1257.1 1269.0,1256.8 1270.0,1257.1 1271.0,1256.8 1272.0,1257.1 1273.0,1256.8 1274.0,1257.1 1275.0,1256.9 1276.0,1257.1 1277.0,1256.8 1278.0,1257.1 1279.0,1256.8 1280.0,1257.1 1281.0,1256.8 1282.0,1257.1 1283.0,1256.8 1284.0,1257.1 1285.0,1256.8 1286.0,1257.1 1287.0,1256.8 1288.0,1257.1 1289.0,1256.8 1290.0,1257.1 1291.0,1256.8 1292.0,1257.1 1293.0,1256.8 1294.0,1257.1 1295.0,1256.8 1296.0,1257.1 1297.0,1256.8 1298.0,1257.1 1299.0,1256.8 1300.0,1257.1 1301.0,1256.8 1302.0,1257.1 1303.0,1256.8 1304.0,1257.1 1305.0,1256.8 1306.0,1257.1 1307.0,1256.8 1308.0,1257.1 1309.0,1256.8 1310.0,1257.1 1311.0,1256.8 1312.0,1257.1 1313.0,1256.8 1314.0,1257.1 1315.0,1256.8 1316.0,1257.1 1317.0,1256.8 1318.0,1257.1 1319.0,1256.8 1320.0,1257.1 1321.0,1256.8 1322.0,1257.1 1323.0,1256.8 1324.0,1257.1 1325.0,1256.8 1326.0,1257.1 1327.0,1256.8 1328.0,1257.0 1329.0,1256.8 1330.0,1257.0 1331.0,1256.8 1332.0,1257.1 1333.0,1256.8 1334.0,1257.1 1335.0,1256.8 1336.0,1257.1 1337.0,1256.8 1338.0,1257.1 1339.0,1256.8 1340.0,1257.1 1341.0,1256.8 1342.0,1257.1 1343.0,1256.8 1344.0,1257.1 1345.0,1256.8 1346.0,1257.1 1347.0,1256.8 1348.0,1257.1 1349.0,1256.8 1350.0,1257.1 1351.0,1256.8 1352.0,1257.0 1353.0,1256.8 1354.0,1257.1 1355.0,1256.8 1356.0,1257.0 1357.0,1256.8 1358.0,1257.1 1359.0,1256.7 1360.0,1257.1 1361.0,1256.8 1362.0,1257.1 1363.0,1256.7 1364.0,1257.0 1365.0,1256.7 1366.0,1257.1 1367.0,1256.8 1368.0,1257.0 1369.0,1256.8 1370.0,1257.0 1371.0,1256.8 1372.0,1257.0 1373.0,1256.7 1374.0,1257.1 1375.0,1256.8 1376.0,1257.0 1377.0,1256.7 1378.0,1257.0 1379.0,1256.8 1380.0,1257.0 1381.0,1256.8 1382.0,1257.0 1383.0,1256.7 1384.0,1257.0 1385.0,1256.7 1386.0,1257.0 1387.0,1256.7 1388.0,1257.0 1389.0,1256.8 1390.0,1257.0 1391.0,1256.7 1392.0,1257.0 1393.0,1256.7 1394.0,1257.0 1395.0,1256.8 1396.0,1257.0 1397.0,1256.8 1398.0,1257.0 1399.0,1256.8 1400.0,1257.0 1401.0,1256.7 1402.0,1257.0 1403.0,1256.7 1404.0,1257.0 1405.0,1256.7 1406.0,1257.0 1407.0,1256.7 1408.0,1257.0 1409.0,1256.7 1410.0,1257.0 1411.0,1256.8 1412.0,1257.0 1413.0,1256.7 1414.0,1257.0 1415.0,1256.8 1416.0,1257.0 1417.0,1256.7 1418.0,1257.0 1419.0,1256.8 1420.0,1257.0 1421.0,1256.7 1422.0,1257.0 1423.0,1256.7 1424.0,1257.0 1425.0,1256.7 1426.0,1257.0 1427.0,1256.7 1428.0,1257.0 1429.0,1256.8 1430.0,1257.0 1431.0,1256.7 1432.0,1257.0 1433.0,1256.7 1434.0,1257.0 1435.0,1256.7 1436.0,1257.0 1437.0,1256.7 1438.0,1257.0 1439.0,1256.7 1440.0,1257.0 1441.0,1256.7 1442.0,1257.0 1443.0,1256.7 1444.0,1257.0 1445.0,1256.7 1446.0,1257.0 1447.0,1256.7 1448.0,1256.9 1449.0,1256.7 1450.0,1257.0 1451.0,1256.7 1452.0,1257.0 1453.0,1256.7 1454.0,1256.9 1455.0,1256.7 1456.0,1257.0 1457.0,1256.7 1458.0,1257.0 1459.0,1256.7 1460.0,1256.9 1461.0,1256.7 1462.0,1256.9 1463.0,1256.7 1464.0,1257.0 1465.0,1256.7 1466.0,1256.9 1467.0,1256.7 1468.0,1256.9 1469.0,1256.7 1470.0,1256.9 1471.0,1256.7 1472.0,1256.9 1473.0,1256.7 1474.0,1257.0 1475.0,1256.7 1476.0,1256.9 1477.0,1256.7 1478.0,1257.0 1479.0,1256.7 1480.0,1257.0 1481.0,1256.7 1482.0,1257.0 1483.0,1256.7 1484.0,1257.0 1485.0,1256.7 1486.0,1256.9 1487.0,1256.7 1488.0,1256.9 1489.0,1256.7 1490.0,1256.9 1491.0,1256.7 1492.0,1256.9 1493.0,1256.7 1494.0,1256.9 1495.0,1256.7 1496.0,1256.9 1497.0,1256.7 1498.0,1256.9 1499.0,1256.6 1500.0,1256.9 1501.0,1256.7 1502.0,1256.9 1503.0,1256.7 1504.0,1257.0 1505.0,1256.6 1506.0,1257.0 1507.0,1256.7 1508.0,1257.0 1509.0,1256.7 1510.0,1256.9 1511.0,1256.6 1512.0,1256.9 1513.0,1256.7 1514.0,1257.0 1515.0,1256.7 1516.0,1256.9 1517.0,1256.7 1518.0,1256.9 1519.0,1256.7 1520.0,1256.9 1521.0,1256.7 1522.0,1256.9 1523.0,1256.7 1524.0,1256.9 1525.0,1256.7 1526.0,1257.0 1527.0,1256.6 1528.0,1256.9 1529.0,1256.7 1530.0,1256.9 1531.0,1256.6 1532.0,1256.9 1533.0,1256.7 1534.0,1256.9 1535.0,1256.7 1536.0,1256.9 1537.0,1256.6 1538.0,1256.9 1539.0,1256.6 1540.0,1256.9 1541.0,1256.6 1542.0,1256.9 1543.0,1256.7 1544.0,1256.9 1545.0,1256.7 1546.0,1256.9 1547.0,1256.6 1548.0,1256.9 1549.0,1256.6 1550.0,1256.9 1551.0,1256.6 1552.0,1256.9 1553.0,1256.7 1554.0,1256.9 1555.0,1256.7 1556.0,1256.9 1557.0,1256.7 1558.0,1256.9 1559.0,1256.6 1560.0,1256.9 1561.0,1256.6 1562.0,1256.9 1563.0,1256.6 1564.0,1256.9 1565.0,1256.6 1566.0,1256.9 1567.0,1256.7 1568.0,1256.9 1569.0,1256.7 1570.0,1256.9 1571.0,1256.6 1572.0,1256.9 1573.0,1256.6 1574.0,1256.9 1575.0,1256.6 1576.0,1256.9 1577.0,1256.7 1578.0,1256.9 1579.0,1256.6 1580.0,1256.9 1581.0,1256.6 1582.0,1256.9 1583.0,1256.6 1584.0,1256.9 1585.0,1256.6 1586.0,1256.9 1587.0,1256.6 1588.0,1256.9 1589.0,1256.7 1590.0,1256.9 1591.0,1256.7 1592.0,1256.9 1593.0,1256.6 1594.0,1256.9 1595.0,1256.6 1596.0,1256.9 1597.0,1256.6 1598.0,1256.9 1599.0,1256.6 1600.0,1256.9 1601.0,1256.7 1602.0,1256.9 1603.0,1256.6 1604.0,1256.9 1605.0,1256.6 1606.0,1256.9 1607.0,1256.6 1608.0,1256.9 1609.0,1256.6 1610.0,1256.9 1611.0,1256.6 1612.0,1256.9 1613.0,1256.6 1614.0,1256.9 1615.0,1256.6 1616.0,1256.9 1617.0,1256.6 1618.0,1256.9 1619.0,1256.6 1620.0,1256.9 1621.0,1256.6 1622.0,1256.9 1623.0,1256.6 1624.0,1256.9 1625.0,1256.6 1626.0,1256.9 1627.0,1256.6 1628.0,1256.9 1629.0,1256.6 1630.0,1256.8 1631.0,1256.6 1632.0,1256.9 1633.0,1256.6 1634.0,1256.8 1635.0,1256.6 1636.0,1256.9 1637.0,1256.6 1638.0,1256.8 1639.0,1256.6 1640.0,1256.9 1641.0,1256.6 1642.0,1256.8 1643.0,1256.6 1644.0,1256.9 1645.0,1256.6 1646.0,1256.8 1647.0,1256.6 1648.0,1256.9 1649.0,1256.6 1650.0,1256.8 1651.0,1256.6 1652.0,1256.9 1653.0,1256.6 1654.0,1256.9 1655.0,1256.6 1656.0,1256.9 1657.0,1256.6 1658.0,1256.9 1659.0,1256.6 1660.0,1256.9 1661.0,1256.6 1662.0,1256.9 1663.0,1256.6 1664.0,1256.8 1665.0,1256.6 1666.0,1256.9 1667.0,1256.6 1668.0,1256.8 1669.0,1256.6 1670.0,1256.8 1671.0,1256.6 1672.0,1256.9 1673.0,1256.6 1674.0,1256.9 1675.0,1256.6 1676.0,1256.9 1677.0,1256.6 1678.0,1256.9 1679.0,1256.6 1680.0,1256.8 1681.0,1256.6 1682.0,1256.8 1683.0,1256.6 1684.0,1256.8 1685.0,1256.6 1686.0,1256.8 1687.0,1256.6 1688.0,1256.8 1689.0,1256.6 1690.0,1256.8 1691.0,1256.6 1692.0,1256.9 1693.0,1256.6 1694.0,1256.9 1695.0,1256.6 1696.0,1256.9 1697.0,1256.6 1698.0,1256.9 1699.0,1256.6 1700.0,1256.8 1701.0,1256.6 1702.0,1256.8 1703.0,1256.6 1704.0,1256.8 1705.0,1256.6 1706.0,1256.8 1707.0,1256.6 1708.0,1256.9 1709.0,1256.5 1710.0,1256.8 1711.0,1256.6 1712.0,1256.8 1713.0,1256.6 1714.0,1256.8 1715.0,1256.6 1716.0,1256.8 1717.0,1256.6 1718.0,1256.8 1719.0,1256.6 1720.0,1256.8 1721.0,1256.6 1722.0,1256.8 1723.0,1256.5 1724.0,1256.8 1725.0,1256.6 1726.0,1256.8 1727.0,1256.6 1728.0,1256.8 1729.0,1256.6 1730.0,1256.8 1731.0,1256.6 1732.0,1256.8 1733.0,1256.6 1734.0,1256.8 1735.0,1256.6 1736.0,1256.8 1737.0,1256.6 1738.0,1256.8 1739.0,1256.5 1740.0,1256.8 1741.0,1256.6 1742.0,1256.8 1743.0,1256.6 1744.0,1256.8 1745.0,1256.6 1746.0,1256.8 1747.0,1256.6 1748.0,1256.8 1749.0,1256.5 1750.0,1256.8 1751.0,1256.5 1752.0,1256.8 1753.0,1256.6 1754.0,1256.8 1755.0,1256.5 1756.0,1256.8 1757.0,1256.5 1758.0,1256.8 1759.0,1256.5 1760.0,1256.8 1761.0,1256.6 1762.0,1256.8 1763.0,1256.5 1764.0,1256.8 1765.0,1256.5 1766.0,1256.8 1767.0,1256.5 1768.0,1256.8 1769.0,1256.5 1770.0,1256.8 1771.0,1256.6 1772.0,1256.8 1773.0,1256.6 1774.0,1256.8 1775.0,1256.6 1776.0,1256.8 1777.0,1256.6 1778.0,1256.8 1779.0,1256.6 1780.0,1256.8 1781.0,1256.5 1782.0,1256.8 1783.0,1256.5 1784.0,1256.8 1785.0,1256.5 1786.0,1256.8 1787.0,1256.6 1788.0,1256.8 1789.0,1256.5 1790.0,1256.8 1791.0,1256.5 1792.0,1256.8 1793.0,1256.5 1794.0,1256.8 1795.0,1256.5 1796.0,1256.8 1797.0,1256.5 1798.0,1256.8 1799.0,1256.5 1800.0,1256.8 1801.0,1256.5 1802.0,1256.8 1803.0,1256.5 1804.0,1256.8 1805.0,1256.5 1806.0,1256.8 1807.0,1256.5 1808.0,1256.8 1809.0,1256.5 1810.0,1256.8 1811.0,1256.5 1812.0,1256.8 1813.0,1256.5 1814.0,1256.8 1815.0,1256.5 1816.0,1256.8 1817.0,1256.5 1818.0,1256.8 1819.0,1256.5 1820.0,1256.8 1821.0,1256.5 1822.0,1256.8 1823.0,1256.5 1824.0,1256.8 1825.0,1256.5 1826.0,1256.8 1827.0,1256.6 1828.0,1256.8 1829.0,1256.6 1830.0,1256.8 1831.0,1256.5 1832.0,1256.8 1833.0,1256.5 1834.0,1256.8 1835.0,1256.5 1836.0,1256.8 1837.0,1256.5 1838.0,1256.8 1839.0,1256.5 1840.0,1256.8 1841.0,1256.5 1842.0,1256.8 1843.0,1256.5 1844.0,1256.7 1845.0,1256.5 1846.0,1256.8 1847.0,1256.5 1848.0,1256.7 1849.0,1256.5 1850.0,1256.8 1851.0,1256.5 1852.0,1256.7 1853.0,1256.5 1854.0,1256.7 1855.0,1256.5 1856.0,1256.7 1857.0,1256.5 1858.0,1256.7 1859.0,1256.5 1860.0,1256.7 1861.0,1256.5 1862.0,1256.7 1863.0,1256.5 1864.0,1256.8 1865.0,1256.5 1866.0,1256.8 1867.0,1256.5 1868.0,1256.7 1869.0,1256.5 1870.0,1256.8 1871.0,1256.5 1872.0,1256.8 1873.0,1256.5 1874.0,1256.8 1875.0,1256.5 1876.0,1256.7 1877.0,1256.5 1878.0,1256.8 1879.0,1256.5 1880.0,1256.7 1881.0,1256.5 1882.0,1256.7 1883.0,1256.5 1884.0,1256.8 1885.0,1256.5 1886.0,1256.7 1887.0,1256.5 1888.0,1256.7 1889.0,1256.5 1890.0,1256.8 1891.0,1256.5 1892.0,1256.7 1893.0,1256.5 1894.0,1256.8 1895.0,1256.5 1896.0,1256.7 1897.0,1256.5 1898.0,1256.7 1899.0,1256.5 1900.0,1256.7 1901.0,1256.5 1902.0,1256.7 1903.0,1256.5 1904.0,1256.7 1905.0,1256.5 1906.0,1256.7 1907.0,1256.5 1908.0,1256.7 1909.0,1256.5 1910.0,1256.7 1911.0,1256.5 1912.0,1256.7 1913.0,1256.5 1914.0,1256.7 1915.0,1256.5 1916.0,1256.7 1917.0,1256.5 1918.0,1256.7 1919.0,1256.5 1920.0,1256.7 1921.0,1256.5 1922.0,1256.7 1923.0,1256.5 1924.0,1256.7 1925.0,1256.5 1926.0,1256.7 1927.0,1256.5 1928.0,1256.7 1929.0,1256.5 1930.0,1256.8 1931.0,1256.5 1932.0,1256.7 1933.0,1256.5 1934.0,1256.7 1935.0,1256.5"/>
</g>
<rect x="1575" y="77.5" width="318.5" height="245" fill="#fff" stroke="#262626" stroke-width="3"/>
<g stroke-width="10.8" fill="none">
<line x1="1590" y1="123.2" x2="1752" y2="123.2" stroke="#0072BD"/>
<line x1="1590" y1="200" x2="1752" y2="200" stroke="#D95319"/>
<line x1="1590" y1="276.6" x2="1752" y2="276.6" stroke="#EDB120"/>
</g>
<g font-family="'Liberation Serif', 'Times New Roman', Times, serif" font-size="63" fill="#000" stroke="#000" stroke-width="0.5">
<text x="1764" y="146.4">LE1</text>
<text x="1764" y="223.4">LE2</text>
<text x="1764" y="299.9">LE3</text>
</g>
<rect x="1598.95" y="657.85" width="330.20" height="188.90" rx="7.5" ry="7.5" fill="#fff" stroke="#a6a6a6" stroke-width="3.7"/>
<rect x="1601.80" y="660.70" width="324.50" height="183.20" rx="4.6" ry="4.6" fill="#fafaff"/>
<g font-family="'Liberation Sans', Arial, Helvetica, sans-serif" font-size="53" text-anchor="end" stroke-width="0.8">
<text x="1899.6" y="739.2"><tspan fill="#404040" stroke="#404040">X </tspan><tspan fill="#0099ff" stroke="#0099ff" font-weight="bold" dx="1.9">10000</tspan></text>
<text x="1899.6" y="806.9000000000001"><tspan fill="#404040" stroke="#404040">Y </tspan><tspan fill="#0099ff" stroke="#0099ff" font-weight="bold" dx="2.7">0.402369</tspan></text>
</g>
<rect x="1509.25" y="948.65" width="419.90" height="188.30" rx="7.5" ry="7.5" fill="#fff" stroke="#a6a6a6" stroke-width="3.7"/>
<rect x="1512.10" y="951.50" width="414.20" height="182.60" rx="4.6" ry="4.6" fill="#fafaff"/>
<g font-family="'Liberation Sans', Arial, Helvetica, sans-serif" font-size="53" text-anchor="end" stroke-width="0.8">
<text x="1899.6" y="1028.7"><tspan fill="#404040" stroke="#404040">X </tspan><tspan fill="#0099ff" stroke="#0099ff" font-weight="bold" dx="1.9">10000</tspan></text>
<text x="1899.6" y="1096.4"><tspan fill="#404040" stroke="#404040">Y </tspan><tspan fill="#0099ff" stroke="#0099ff" font-weight="bold" dx="5.4">0.000521752</tspan></text>
</g>
<rect x="1612.05" y="1262.05" width="317.10" height="189.30" rx="7.5" ry="7.5" fill="#fff" stroke="#595959" stroke-width="3.7"/>
<rect x="1614.90" y="1264.90" width="311.40" height="183.60" rx="4.6" ry="4.6" fill="#fafaff"/>
<g font-family="'Liberation Sans', Arial, Helvetica, sans-serif" font-size="53" text-anchor="end" stroke-width="0.8">
<text x="1899.6" y="1341.2"><tspan fill="#404040" stroke="#404040">X </tspan><tspan fill="#0099ff" stroke="#0099ff" font-weight="bold" dx="1.9">10000</tspan></text>
<text x="1899.6" y="1409.2"><tspan fill="#404040" stroke="#404040">Y </tspan><tspan fill="#0099ff" stroke="#0099ff" font-weight="bold" dx="1.9">-1.38102</tspan></text>
</g>
<circle cx="1935" cy="852.2" r="16.3" fill="#ffffe0"/>
<circle cx="1935" cy="852.2" r="10" fill="#262626"/>
<circle cx="1935" cy="943.0" r="16.3" fill="#ffffe0"/>
<circle cx="1935" cy="943.0" r="10" fill="#262626"/>
<circle cx="1935" cy="1256.3" r="16.3" fill="#ffffe0"/>
<circle cx="1935" cy="1256.3" r="10" fill="#262626"/>
</svg>
</body></html>
